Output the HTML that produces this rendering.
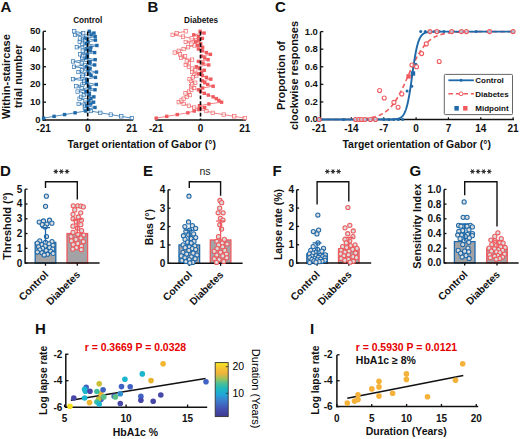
<!DOCTYPE html>
<html><head><meta charset="utf-8"><style>
html,body{margin:0;padding:0;background:#fff;}
svg{display:block;font-family:"Liberation Sans", sans-serif;}
</style></head><body>
<svg width="520" height="439" viewBox="0 0 520 439">
<rect width="520" height="439" fill="#fff"/>
<text x="0.40" y="11.70" font-size="15" text-anchor="start" font-weight="bold" fill="#111">A</text>
<text x="147.60" y="11.70" font-size="15" text-anchor="start" font-weight="bold" fill="#111">B</text>
<text x="275.10" y="11.70" font-size="15" text-anchor="start" font-weight="bold" fill="#111">C</text>
<text x="0.00" y="175.80" font-size="15" text-anchor="start" font-weight="bold" fill="#111">D</text>
<text x="143.00" y="175.80" font-size="15" text-anchor="start" font-weight="bold" fill="#111">E</text>
<text x="272.40" y="175.60" font-size="15" text-anchor="start" font-weight="bold" fill="#111">F</text>
<text x="409.50" y="175.80" font-size="15" text-anchor="start" font-weight="bold" fill="#111">G</text>
<text x="35.00" y="333.90" font-size="15" text-anchor="start" font-weight="bold" fill="#111">H</text>
<text x="310.00" y="333.90" font-size="15" text-anchor="start" font-weight="bold" fill="#111">I</text>
<line x1="42.50" y1="119.90" x2="133.10" y2="119.90" stroke="#111" stroke-width="1.5"/>
<line x1="43.20" y1="31.60" x2="43.20" y2="120.60" stroke="#111" stroke-width="1.5"/>
<line x1="43.20" y1="119.90" x2="46.00" y2="119.90" stroke="#111" stroke-width="1.3"/>
<text x="40.60" y="122.80" font-size="9.5" text-anchor="end" font-weight="bold" fill="#111">0</text>
<line x1="43.20" y1="102.18" x2="46.00" y2="102.18" stroke="#111" stroke-width="1.3"/>
<text x="40.60" y="105.08" font-size="9.5" text-anchor="end" font-weight="bold" fill="#111">10</text>
<line x1="43.20" y1="84.46" x2="46.00" y2="84.46" stroke="#111" stroke-width="1.3"/>
<text x="40.60" y="87.36" font-size="9.5" text-anchor="end" font-weight="bold" fill="#111">20</text>
<line x1="43.20" y1="66.74" x2="46.00" y2="66.74" stroke="#111" stroke-width="1.3"/>
<text x="40.60" y="69.64" font-size="9.5" text-anchor="end" font-weight="bold" fill="#111">30</text>
<line x1="43.20" y1="49.02" x2="46.00" y2="49.02" stroke="#111" stroke-width="1.3"/>
<text x="40.60" y="51.92" font-size="9.5" text-anchor="end" font-weight="bold" fill="#111">40</text>
<line x1="43.20" y1="31.30" x2="46.00" y2="31.30" stroke="#111" stroke-width="1.3"/>
<text x="40.60" y="34.20" font-size="9.5" text-anchor="end" font-weight="bold" fill="#111">50</text>
<text x="43.60" y="132.30" font-size="10" text-anchor="middle" font-weight="bold" fill="#111">-21</text>
<text x="87.70" y="132.30" font-size="10" text-anchor="middle" font-weight="bold" fill="#111">0</text>
<text x="131.80" y="132.30" font-size="10" text-anchor="middle" font-weight="bold" fill="#111">21</text>
<text x="87.70" y="22.70" font-size="8.2" text-anchor="middle" font-weight="bold" fill="#111">Control</text>
<polyline points="131.80,118.13 121.30,116.36 110.80,114.58 100.30,112.81 90.85,111.04 85.60,109.27 84.77,107.50 85.50,105.72 78.68,103.95 86.72,102.18 85.49,100.41 79.59,98.64 81.16,96.86 83.82,95.09 86.73,93.32 77.63,91.55 86.47,89.78 81.67,88.00 76.35,86.23 82.48,84.46 84.29,82.69 84.48,80.92 73.09,79.14 82.30,77.37 82.68,75.60 86.56,73.83 78.47,72.06 81.95,70.28 85.83,68.51 73.99,66.74 84.74,64.97 81.75,63.20 73.01,61.42 86.29,59.65 82.26,57.88 82.29,56.11 80.01,54.34 86.29,52.56 82.74,50.79 86.84,49.02 76.85,47.25 85.11,45.48 82.23,43.70 79.72,41.93 85.19,40.16 79.90,38.39 86.42,36.62 75.13,34.84 83.18,33.07 74.18,31.30" fill="none" stroke="#1f69a9" stroke-width="0.75"/>
<polyline points="43.60,118.13 54.10,116.36 64.60,114.58 75.10,112.81 85.60,111.04 88.55,109.27 94.99,107.50 86.78,105.72 90.75,103.95 93.60,102.18 88.77,100.41 90.92,98.64 93.89,96.86 89.05,95.09 89.39,93.32 86.24,91.55 95.01,89.78 89.86,88.00 88.49,86.23 96.32,84.46 86.88,82.69 87.32,80.92 86.63,79.14 95.49,77.37 91.06,75.60 89.24,73.83 96.51,72.06 88.11,70.28 90.09,68.51 86.58,66.74 94.68,64.97 89.70,63.20 89.98,61.42 95.17,59.65 86.50,57.88 87.48,56.11 87.17,54.34 94.64,52.56 90.44,50.79 87.11,49.02 90.86,47.25 96.90,45.48 86.32,43.70 88.09,41.93 95.44,40.16 86.15,38.39 95.19,36.62 90.97,34.84 94.00,33.07 89.28,31.30" fill="none" stroke="#1f69a9" stroke-width="0.75"/>
<rect x="130.10" y="116.43" width="3.4" height="3.4" fill="#fff" fill-opacity="0.55" stroke="#1f69a9" stroke-width="0.65"/>
<rect x="119.60" y="114.66" width="3.4" height="3.4" fill="#fff" fill-opacity="0.55" stroke="#1f69a9" stroke-width="0.65"/>
<rect x="109.10" y="112.88" width="3.4" height="3.4" fill="#fff" fill-opacity="0.55" stroke="#1f69a9" stroke-width="0.65"/>
<rect x="98.60" y="111.11" width="3.4" height="3.4" fill="#fff" fill-opacity="0.55" stroke="#1f69a9" stroke-width="0.65"/>
<rect x="89.15" y="109.34" width="3.4" height="3.4" fill="#fff" fill-opacity="0.55" stroke="#1f69a9" stroke-width="0.65"/>
<rect x="83.90" y="107.57" width="3.4" height="3.4" fill="#fff" fill-opacity="0.55" stroke="#1f69a9" stroke-width="0.65"/>
<rect x="83.07" y="105.80" width="3.4" height="3.4" fill="#fff" fill-opacity="0.55" stroke="#1f69a9" stroke-width="0.65"/>
<rect x="83.80" y="104.02" width="3.4" height="3.4" fill="#fff" fill-opacity="0.55" stroke="#1f69a9" stroke-width="0.65"/>
<rect x="76.98" y="102.25" width="3.4" height="3.4" fill="#fff" fill-opacity="0.55" stroke="#1f69a9" stroke-width="0.65"/>
<rect x="85.02" y="100.48" width="3.4" height="3.4" fill="#fff" fill-opacity="0.55" stroke="#1f69a9" stroke-width="0.65"/>
<rect x="83.79" y="98.71" width="3.4" height="3.4" fill="#fff" fill-opacity="0.55" stroke="#1f69a9" stroke-width="0.65"/>
<rect x="77.89" y="96.94" width="3.4" height="3.4" fill="#fff" fill-opacity="0.55" stroke="#1f69a9" stroke-width="0.65"/>
<rect x="79.46" y="95.16" width="3.4" height="3.4" fill="#fff" fill-opacity="0.55" stroke="#1f69a9" stroke-width="0.65"/>
<rect x="82.12" y="93.39" width="3.4" height="3.4" fill="#fff" fill-opacity="0.55" stroke="#1f69a9" stroke-width="0.65"/>
<rect x="85.03" y="91.62" width="3.4" height="3.4" fill="#fff" fill-opacity="0.55" stroke="#1f69a9" stroke-width="0.65"/>
<rect x="75.93" y="89.85" width="3.4" height="3.4" fill="#fff" fill-opacity="0.55" stroke="#1f69a9" stroke-width="0.65"/>
<rect x="84.77" y="88.08" width="3.4" height="3.4" fill="#fff" fill-opacity="0.55" stroke="#1f69a9" stroke-width="0.65"/>
<rect x="79.97" y="86.30" width="3.4" height="3.4" fill="#fff" fill-opacity="0.55" stroke="#1f69a9" stroke-width="0.65"/>
<rect x="74.65" y="84.53" width="3.4" height="3.4" fill="#fff" fill-opacity="0.55" stroke="#1f69a9" stroke-width="0.65"/>
<rect x="80.78" y="82.76" width="3.4" height="3.4" fill="#fff" fill-opacity="0.55" stroke="#1f69a9" stroke-width="0.65"/>
<rect x="82.59" y="80.99" width="3.4" height="3.4" fill="#fff" fill-opacity="0.55" stroke="#1f69a9" stroke-width="0.65"/>
<rect x="82.78" y="79.22" width="3.4" height="3.4" fill="#fff" fill-opacity="0.55" stroke="#1f69a9" stroke-width="0.65"/>
<rect x="71.39" y="77.44" width="3.4" height="3.4" fill="#fff" fill-opacity="0.55" stroke="#1f69a9" stroke-width="0.65"/>
<rect x="80.60" y="75.67" width="3.4" height="3.4" fill="#fff" fill-opacity="0.55" stroke="#1f69a9" stroke-width="0.65"/>
<rect x="80.98" y="73.90" width="3.4" height="3.4" fill="#fff" fill-opacity="0.55" stroke="#1f69a9" stroke-width="0.65"/>
<rect x="84.86" y="72.13" width="3.4" height="3.4" fill="#fff" fill-opacity="0.55" stroke="#1f69a9" stroke-width="0.65"/>
<rect x="76.77" y="70.36" width="3.4" height="3.4" fill="#fff" fill-opacity="0.55" stroke="#1f69a9" stroke-width="0.65"/>
<rect x="80.25" y="68.58" width="3.4" height="3.4" fill="#fff" fill-opacity="0.55" stroke="#1f69a9" stroke-width="0.65"/>
<rect x="84.13" y="66.81" width="3.4" height="3.4" fill="#fff" fill-opacity="0.55" stroke="#1f69a9" stroke-width="0.65"/>
<rect x="72.29" y="65.04" width="3.4" height="3.4" fill="#fff" fill-opacity="0.55" stroke="#1f69a9" stroke-width="0.65"/>
<rect x="83.04" y="63.27" width="3.4" height="3.4" fill="#fff" fill-opacity="0.55" stroke="#1f69a9" stroke-width="0.65"/>
<rect x="80.05" y="61.50" width="3.4" height="3.4" fill="#fff" fill-opacity="0.55" stroke="#1f69a9" stroke-width="0.65"/>
<rect x="71.31" y="59.72" width="3.4" height="3.4" fill="#fff" fill-opacity="0.55" stroke="#1f69a9" stroke-width="0.65"/>
<rect x="84.59" y="57.95" width="3.4" height="3.4" fill="#fff" fill-opacity="0.55" stroke="#1f69a9" stroke-width="0.65"/>
<rect x="80.56" y="56.18" width="3.4" height="3.4" fill="#fff" fill-opacity="0.55" stroke="#1f69a9" stroke-width="0.65"/>
<rect x="80.59" y="54.41" width="3.4" height="3.4" fill="#fff" fill-opacity="0.55" stroke="#1f69a9" stroke-width="0.65"/>
<rect x="78.31" y="52.64" width="3.4" height="3.4" fill="#fff" fill-opacity="0.55" stroke="#1f69a9" stroke-width="0.65"/>
<rect x="84.59" y="50.86" width="3.4" height="3.4" fill="#fff" fill-opacity="0.55" stroke="#1f69a9" stroke-width="0.65"/>
<rect x="81.04" y="49.09" width="3.4" height="3.4" fill="#fff" fill-opacity="0.55" stroke="#1f69a9" stroke-width="0.65"/>
<rect x="85.14" y="47.32" width="3.4" height="3.4" fill="#fff" fill-opacity="0.55" stroke="#1f69a9" stroke-width="0.65"/>
<rect x="75.15" y="45.55" width="3.4" height="3.4" fill="#fff" fill-opacity="0.55" stroke="#1f69a9" stroke-width="0.65"/>
<rect x="83.41" y="43.78" width="3.4" height="3.4" fill="#fff" fill-opacity="0.55" stroke="#1f69a9" stroke-width="0.65"/>
<rect x="80.53" y="42.00" width="3.4" height="3.4" fill="#fff" fill-opacity="0.55" stroke="#1f69a9" stroke-width="0.65"/>
<rect x="78.02" y="40.23" width="3.4" height="3.4" fill="#fff" fill-opacity="0.55" stroke="#1f69a9" stroke-width="0.65"/>
<rect x="83.49" y="38.46" width="3.4" height="3.4" fill="#fff" fill-opacity="0.55" stroke="#1f69a9" stroke-width="0.65"/>
<rect x="78.20" y="36.69" width="3.4" height="3.4" fill="#fff" fill-opacity="0.55" stroke="#1f69a9" stroke-width="0.65"/>
<rect x="84.72" y="34.92" width="3.4" height="3.4" fill="#fff" fill-opacity="0.55" stroke="#1f69a9" stroke-width="0.65"/>
<rect x="73.43" y="33.14" width="3.4" height="3.4" fill="#fff" fill-opacity="0.55" stroke="#1f69a9" stroke-width="0.65"/>
<rect x="81.48" y="31.37" width="3.4" height="3.4" fill="#fff" fill-opacity="0.55" stroke="#1f69a9" stroke-width="0.65"/>
<rect x="72.48" y="29.60" width="3.4" height="3.4" fill="#fff" fill-opacity="0.55" stroke="#1f69a9" stroke-width="0.65"/>
<rect x="41.90" y="116.43" width="3.4" height="3.4" fill="#1f69a9"/>
<rect x="52.40" y="114.66" width="3.4" height="3.4" fill="#1f69a9"/>
<rect x="62.90" y="112.88" width="3.4" height="3.4" fill="#1f69a9"/>
<rect x="73.40" y="111.11" width="3.4" height="3.4" fill="#1f69a9"/>
<rect x="83.90" y="109.34" width="3.4" height="3.4" fill="#1f69a9"/>
<rect x="86.85" y="107.57" width="3.4" height="3.4" fill="#1f69a9"/>
<rect x="93.29" y="105.80" width="3.4" height="3.4" fill="#1f69a9"/>
<rect x="85.08" y="104.02" width="3.4" height="3.4" fill="#1f69a9"/>
<rect x="89.05" y="102.25" width="3.4" height="3.4" fill="#1f69a9"/>
<rect x="91.90" y="100.48" width="3.4" height="3.4" fill="#1f69a9"/>
<rect x="87.07" y="98.71" width="3.4" height="3.4" fill="#1f69a9"/>
<rect x="89.22" y="96.94" width="3.4" height="3.4" fill="#1f69a9"/>
<rect x="92.19" y="95.16" width="3.4" height="3.4" fill="#1f69a9"/>
<rect x="87.35" y="93.39" width="3.4" height="3.4" fill="#1f69a9"/>
<rect x="87.69" y="91.62" width="3.4" height="3.4" fill="#1f69a9"/>
<rect x="84.54" y="89.85" width="3.4" height="3.4" fill="#1f69a9"/>
<rect x="93.31" y="88.08" width="3.4" height="3.4" fill="#1f69a9"/>
<rect x="88.16" y="86.30" width="3.4" height="3.4" fill="#1f69a9"/>
<rect x="86.79" y="84.53" width="3.4" height="3.4" fill="#1f69a9"/>
<rect x="94.62" y="82.76" width="3.4" height="3.4" fill="#1f69a9"/>
<rect x="85.18" y="80.99" width="3.4" height="3.4" fill="#1f69a9"/>
<rect x="85.62" y="79.22" width="3.4" height="3.4" fill="#1f69a9"/>
<rect x="84.93" y="77.44" width="3.4" height="3.4" fill="#1f69a9"/>
<rect x="93.79" y="75.67" width="3.4" height="3.4" fill="#1f69a9"/>
<rect x="89.36" y="73.90" width="3.4" height="3.4" fill="#1f69a9"/>
<rect x="87.54" y="72.13" width="3.4" height="3.4" fill="#1f69a9"/>
<rect x="94.81" y="70.36" width="3.4" height="3.4" fill="#1f69a9"/>
<rect x="86.41" y="68.58" width="3.4" height="3.4" fill="#1f69a9"/>
<rect x="88.39" y="66.81" width="3.4" height="3.4" fill="#1f69a9"/>
<rect x="84.88" y="65.04" width="3.4" height="3.4" fill="#1f69a9"/>
<rect x="92.98" y="63.27" width="3.4" height="3.4" fill="#1f69a9"/>
<rect x="88.00" y="61.50" width="3.4" height="3.4" fill="#1f69a9"/>
<rect x="88.28" y="59.72" width="3.4" height="3.4" fill="#1f69a9"/>
<rect x="93.47" y="57.95" width="3.4" height="3.4" fill="#1f69a9"/>
<rect x="84.80" y="56.18" width="3.4" height="3.4" fill="#1f69a9"/>
<rect x="85.78" y="54.41" width="3.4" height="3.4" fill="#1f69a9"/>
<rect x="85.47" y="52.64" width="3.4" height="3.4" fill="#1f69a9"/>
<rect x="92.94" y="50.86" width="3.4" height="3.4" fill="#1f69a9"/>
<rect x="88.74" y="49.09" width="3.4" height="3.4" fill="#1f69a9"/>
<rect x="85.41" y="47.32" width="3.4" height="3.4" fill="#1f69a9"/>
<rect x="89.16" y="45.55" width="3.4" height="3.4" fill="#1f69a9"/>
<rect x="95.20" y="43.78" width="3.4" height="3.4" fill="#1f69a9"/>
<rect x="84.62" y="42.00" width="3.4" height="3.4" fill="#1f69a9"/>
<rect x="86.39" y="40.23" width="3.4" height="3.4" fill="#1f69a9"/>
<rect x="93.74" y="38.46" width="3.4" height="3.4" fill="#1f69a9"/>
<rect x="84.45" y="36.69" width="3.4" height="3.4" fill="#1f69a9"/>
<rect x="93.49" y="34.92" width="3.4" height="3.4" fill="#1f69a9"/>
<rect x="89.27" y="33.14" width="3.4" height="3.4" fill="#1f69a9"/>
<rect x="92.30" y="31.37" width="3.4" height="3.4" fill="#1f69a9"/>
<rect x="87.58" y="29.60" width="3.4" height="3.4" fill="#1f69a9"/>
<line x1="87.70" y1="31.60" x2="87.70" y2="119.90" stroke="#000" stroke-width="1.6" stroke-dasharray="3.8,2.0"/>
<line x1="155.30" y1="119.90" x2="245.90" y2="119.90" stroke="#111" stroke-width="1.5"/>
<text x="156.19" y="132.30" font-size="10" text-anchor="middle" font-weight="bold" fill="#111">-21</text>
<text x="200.50" y="132.30" font-size="10" text-anchor="middle" font-weight="bold" fill="#111">0</text>
<text x="244.81" y="132.30" font-size="10" text-anchor="middle" font-weight="bold" fill="#111">21</text>
<text x="201.10" y="22.70" font-size="8.2" text-anchor="middle" font-weight="bold" fill="#111">Diabetes</text>
<polyline points="244.81,118.13 234.26,116.36 223.71,114.58 212.74,112.81 206.41,111.04 199.44,109.27 194.17,107.50 188.90,105.72 183.62,103.95 178.77,102.18 181.51,100.41 183.62,98.64 186.78,96.86 189.95,95.09 185.52,93.32 188.90,91.55 191.43,89.78 194.17,88.00 191.00,86.23 192.27,84.46 195.22,82.69 191.00,80.92 189.53,79.14 192.90,77.37 196.28,75.60 194.17,73.83 192.27,72.06 195.22,70.28 192.06,68.51 188.90,66.74 185.73,64.97 188.90,63.20 186.78,61.42 192.06,59.65 181.09,57.88 185.10,56.11 180.03,54.34 174.76,52.56 178.77,50.79 183.62,49.02 188.05,47.25 194.38,45.48 191.43,43.70 185.73,41.93 196.28,40.16 191.64,38.39 182.99,36.62 172.65,34.84 176.66,33.07 185.73,31.30" fill="none" stroke="#ee5a5e" stroke-width="0.75"/>
<polyline points="156.19,118.13 166.74,116.36 177.29,114.58 187.84,112.81 194.17,111.04 199.44,109.27 204.72,107.50 199.44,105.72 208.94,103.95 221.60,102.18 218.86,100.41 216.32,98.64 213.16,96.86 208.31,95.09 204.30,93.32 200.50,91.55 198.39,89.78 202.61,88.00 213.16,86.23 207.67,84.46 204.72,82.69 202.40,80.92 210.84,79.14 206.41,77.37 202.40,75.60 198.39,73.83 201.56,72.06 204.30,70.28 199.44,68.51 196.28,66.74 208.73,64.97 203.03,63.20 198.39,61.42 208.10,59.65 204.72,57.88 201.56,56.11 210.42,54.34 206.41,52.56 202.40,50.79 198.39,49.02 202.61,47.25 197.34,45.48 200.71,43.70 195.65,41.93 198.39,40.16 202.40,38.39 198.39,36.62 193.75,34.84 204.09,33.07 200.08,31.30" fill="none" stroke="#ee5a5e" stroke-width="0.75"/>
<rect x="243.11" y="116.43" width="3.4" height="3.4" fill="#fff" fill-opacity="0.55" stroke="#ee5a5e" stroke-width="0.65"/>
<rect x="232.56" y="114.66" width="3.4" height="3.4" fill="#fff" fill-opacity="0.55" stroke="#ee5a5e" stroke-width="0.65"/>
<rect x="222.01" y="112.88" width="3.4" height="3.4" fill="#fff" fill-opacity="0.55" stroke="#ee5a5e" stroke-width="0.65"/>
<rect x="211.04" y="111.11" width="3.4" height="3.4" fill="#fff" fill-opacity="0.55" stroke="#ee5a5e" stroke-width="0.65"/>
<rect x="204.71" y="109.34" width="3.4" height="3.4" fill="#fff" fill-opacity="0.55" stroke="#ee5a5e" stroke-width="0.65"/>
<rect x="197.75" y="107.57" width="3.4" height="3.4" fill="#fff" fill-opacity="0.55" stroke="#ee5a5e" stroke-width="0.65"/>
<rect x="192.47" y="105.80" width="3.4" height="3.4" fill="#fff" fill-opacity="0.55" stroke="#ee5a5e" stroke-width="0.65"/>
<rect x="187.20" y="104.02" width="3.4" height="3.4" fill="#fff" fill-opacity="0.55" stroke="#ee5a5e" stroke-width="0.65"/>
<rect x="181.92" y="102.25" width="3.4" height="3.4" fill="#fff" fill-opacity="0.55" stroke="#ee5a5e" stroke-width="0.65"/>
<rect x="177.07" y="100.48" width="3.4" height="3.4" fill="#fff" fill-opacity="0.55" stroke="#ee5a5e" stroke-width="0.65"/>
<rect x="179.81" y="98.71" width="3.4" height="3.4" fill="#fff" fill-opacity="0.55" stroke="#ee5a5e" stroke-width="0.65"/>
<rect x="181.92" y="96.94" width="3.4" height="3.4" fill="#fff" fill-opacity="0.55" stroke="#ee5a5e" stroke-width="0.65"/>
<rect x="185.09" y="95.16" width="3.4" height="3.4" fill="#fff" fill-opacity="0.55" stroke="#ee5a5e" stroke-width="0.65"/>
<rect x="188.25" y="93.39" width="3.4" height="3.4" fill="#fff" fill-opacity="0.55" stroke="#ee5a5e" stroke-width="0.65"/>
<rect x="183.82" y="91.62" width="3.4" height="3.4" fill="#fff" fill-opacity="0.55" stroke="#ee5a5e" stroke-width="0.65"/>
<rect x="187.20" y="89.85" width="3.4" height="3.4" fill="#fff" fill-opacity="0.55" stroke="#ee5a5e" stroke-width="0.65"/>
<rect x="189.73" y="88.08" width="3.4" height="3.4" fill="#fff" fill-opacity="0.55" stroke="#ee5a5e" stroke-width="0.65"/>
<rect x="192.47" y="86.30" width="3.4" height="3.4" fill="#fff" fill-opacity="0.55" stroke="#ee5a5e" stroke-width="0.65"/>
<rect x="189.31" y="84.53" width="3.4" height="3.4" fill="#fff" fill-opacity="0.55" stroke="#ee5a5e" stroke-width="0.65"/>
<rect x="190.57" y="82.76" width="3.4" height="3.4" fill="#fff" fill-opacity="0.55" stroke="#ee5a5e" stroke-width="0.65"/>
<rect x="193.53" y="80.99" width="3.4" height="3.4" fill="#fff" fill-opacity="0.55" stroke="#ee5a5e" stroke-width="0.65"/>
<rect x="189.31" y="79.22" width="3.4" height="3.4" fill="#fff" fill-opacity="0.55" stroke="#ee5a5e" stroke-width="0.65"/>
<rect x="187.83" y="77.44" width="3.4" height="3.4" fill="#fff" fill-opacity="0.55" stroke="#ee5a5e" stroke-width="0.65"/>
<rect x="191.20" y="75.67" width="3.4" height="3.4" fill="#fff" fill-opacity="0.55" stroke="#ee5a5e" stroke-width="0.65"/>
<rect x="194.58" y="73.90" width="3.4" height="3.4" fill="#fff" fill-opacity="0.55" stroke="#ee5a5e" stroke-width="0.65"/>
<rect x="192.47" y="72.13" width="3.4" height="3.4" fill="#fff" fill-opacity="0.55" stroke="#ee5a5e" stroke-width="0.65"/>
<rect x="190.57" y="70.36" width="3.4" height="3.4" fill="#fff" fill-opacity="0.55" stroke="#ee5a5e" stroke-width="0.65"/>
<rect x="193.53" y="68.58" width="3.4" height="3.4" fill="#fff" fill-opacity="0.55" stroke="#ee5a5e" stroke-width="0.65"/>
<rect x="190.36" y="66.81" width="3.4" height="3.4" fill="#fff" fill-opacity="0.55" stroke="#ee5a5e" stroke-width="0.65"/>
<rect x="187.20" y="65.04" width="3.4" height="3.4" fill="#fff" fill-opacity="0.55" stroke="#ee5a5e" stroke-width="0.65"/>
<rect x="184.03" y="63.27" width="3.4" height="3.4" fill="#fff" fill-opacity="0.55" stroke="#ee5a5e" stroke-width="0.65"/>
<rect x="187.20" y="61.50" width="3.4" height="3.4" fill="#fff" fill-opacity="0.55" stroke="#ee5a5e" stroke-width="0.65"/>
<rect x="185.09" y="59.72" width="3.4" height="3.4" fill="#fff" fill-opacity="0.55" stroke="#ee5a5e" stroke-width="0.65"/>
<rect x="190.36" y="57.95" width="3.4" height="3.4" fill="#fff" fill-opacity="0.55" stroke="#ee5a5e" stroke-width="0.65"/>
<rect x="179.39" y="56.18" width="3.4" height="3.4" fill="#fff" fill-opacity="0.55" stroke="#ee5a5e" stroke-width="0.65"/>
<rect x="183.40" y="54.41" width="3.4" height="3.4" fill="#fff" fill-opacity="0.55" stroke="#ee5a5e" stroke-width="0.65"/>
<rect x="178.33" y="52.64" width="3.4" height="3.4" fill="#fff" fill-opacity="0.55" stroke="#ee5a5e" stroke-width="0.65"/>
<rect x="173.06" y="50.86" width="3.4" height="3.4" fill="#fff" fill-opacity="0.55" stroke="#ee5a5e" stroke-width="0.65"/>
<rect x="177.07" y="49.09" width="3.4" height="3.4" fill="#fff" fill-opacity="0.55" stroke="#ee5a5e" stroke-width="0.65"/>
<rect x="181.92" y="47.32" width="3.4" height="3.4" fill="#fff" fill-opacity="0.55" stroke="#ee5a5e" stroke-width="0.65"/>
<rect x="186.35" y="45.55" width="3.4" height="3.4" fill="#fff" fill-opacity="0.55" stroke="#ee5a5e" stroke-width="0.65"/>
<rect x="192.68" y="43.78" width="3.4" height="3.4" fill="#fff" fill-opacity="0.55" stroke="#ee5a5e" stroke-width="0.65"/>
<rect x="189.73" y="42.00" width="3.4" height="3.4" fill="#fff" fill-opacity="0.55" stroke="#ee5a5e" stroke-width="0.65"/>
<rect x="184.03" y="40.23" width="3.4" height="3.4" fill="#fff" fill-opacity="0.55" stroke="#ee5a5e" stroke-width="0.65"/>
<rect x="194.58" y="38.46" width="3.4" height="3.4" fill="#fff" fill-opacity="0.55" stroke="#ee5a5e" stroke-width="0.65"/>
<rect x="189.94" y="36.69" width="3.4" height="3.4" fill="#fff" fill-opacity="0.55" stroke="#ee5a5e" stroke-width="0.65"/>
<rect x="181.29" y="34.92" width="3.4" height="3.4" fill="#fff" fill-opacity="0.55" stroke="#ee5a5e" stroke-width="0.65"/>
<rect x="170.95" y="33.14" width="3.4" height="3.4" fill="#fff" fill-opacity="0.55" stroke="#ee5a5e" stroke-width="0.65"/>
<rect x="174.96" y="31.37" width="3.4" height="3.4" fill="#fff" fill-opacity="0.55" stroke="#ee5a5e" stroke-width="0.65"/>
<rect x="184.03" y="29.60" width="3.4" height="3.4" fill="#fff" fill-opacity="0.55" stroke="#ee5a5e" stroke-width="0.65"/>
<rect x="154.49" y="116.43" width="3.4" height="3.4" fill="#ee5a5e"/>
<rect x="165.04" y="114.66" width="3.4" height="3.4" fill="#ee5a5e"/>
<rect x="175.59" y="112.88" width="3.4" height="3.4" fill="#ee5a5e"/>
<rect x="186.14" y="111.11" width="3.4" height="3.4" fill="#ee5a5e"/>
<rect x="192.47" y="109.34" width="3.4" height="3.4" fill="#ee5a5e"/>
<rect x="197.75" y="107.57" width="3.4" height="3.4" fill="#ee5a5e"/>
<rect x="203.02" y="105.80" width="3.4" height="3.4" fill="#ee5a5e"/>
<rect x="197.75" y="104.02" width="3.4" height="3.4" fill="#ee5a5e"/>
<rect x="207.24" y="102.25" width="3.4" height="3.4" fill="#ee5a5e"/>
<rect x="219.90" y="100.48" width="3.4" height="3.4" fill="#ee5a5e"/>
<rect x="217.16" y="98.71" width="3.4" height="3.4" fill="#ee5a5e"/>
<rect x="214.62" y="96.94" width="3.4" height="3.4" fill="#ee5a5e"/>
<rect x="211.46" y="95.16" width="3.4" height="3.4" fill="#ee5a5e"/>
<rect x="206.61" y="93.39" width="3.4" height="3.4" fill="#ee5a5e"/>
<rect x="202.60" y="91.62" width="3.4" height="3.4" fill="#ee5a5e"/>
<rect x="198.80" y="89.85" width="3.4" height="3.4" fill="#ee5a5e"/>
<rect x="196.69" y="88.08" width="3.4" height="3.4" fill="#ee5a5e"/>
<rect x="200.91" y="86.30" width="3.4" height="3.4" fill="#ee5a5e"/>
<rect x="211.46" y="84.53" width="3.4" height="3.4" fill="#ee5a5e"/>
<rect x="205.97" y="82.76" width="3.4" height="3.4" fill="#ee5a5e"/>
<rect x="203.02" y="80.99" width="3.4" height="3.4" fill="#ee5a5e"/>
<rect x="200.70" y="79.22" width="3.4" height="3.4" fill="#ee5a5e"/>
<rect x="209.14" y="77.44" width="3.4" height="3.4" fill="#ee5a5e"/>
<rect x="204.71" y="75.67" width="3.4" height="3.4" fill="#ee5a5e"/>
<rect x="200.70" y="73.90" width="3.4" height="3.4" fill="#ee5a5e"/>
<rect x="196.69" y="72.13" width="3.4" height="3.4" fill="#ee5a5e"/>
<rect x="199.86" y="70.36" width="3.4" height="3.4" fill="#ee5a5e"/>
<rect x="202.60" y="68.58" width="3.4" height="3.4" fill="#ee5a5e"/>
<rect x="197.75" y="66.81" width="3.4" height="3.4" fill="#ee5a5e"/>
<rect x="194.58" y="65.04" width="3.4" height="3.4" fill="#ee5a5e"/>
<rect x="207.03" y="63.27" width="3.4" height="3.4" fill="#ee5a5e"/>
<rect x="201.33" y="61.50" width="3.4" height="3.4" fill="#ee5a5e"/>
<rect x="196.69" y="59.72" width="3.4" height="3.4" fill="#ee5a5e"/>
<rect x="206.40" y="57.95" width="3.4" height="3.4" fill="#ee5a5e"/>
<rect x="203.02" y="56.18" width="3.4" height="3.4" fill="#ee5a5e"/>
<rect x="199.86" y="54.41" width="3.4" height="3.4" fill="#ee5a5e"/>
<rect x="208.72" y="52.64" width="3.4" height="3.4" fill="#ee5a5e"/>
<rect x="204.71" y="50.86" width="3.4" height="3.4" fill="#ee5a5e"/>
<rect x="200.70" y="49.09" width="3.4" height="3.4" fill="#ee5a5e"/>
<rect x="196.69" y="47.32" width="3.4" height="3.4" fill="#ee5a5e"/>
<rect x="200.91" y="45.55" width="3.4" height="3.4" fill="#ee5a5e"/>
<rect x="195.64" y="43.78" width="3.4" height="3.4" fill="#ee5a5e"/>
<rect x="199.01" y="42.00" width="3.4" height="3.4" fill="#ee5a5e"/>
<rect x="193.95" y="40.23" width="3.4" height="3.4" fill="#ee5a5e"/>
<rect x="196.69" y="38.46" width="3.4" height="3.4" fill="#ee5a5e"/>
<rect x="200.70" y="36.69" width="3.4" height="3.4" fill="#ee5a5e"/>
<rect x="196.69" y="34.92" width="3.4" height="3.4" fill="#ee5a5e"/>
<rect x="192.05" y="33.14" width="3.4" height="3.4" fill="#ee5a5e"/>
<rect x="202.39" y="31.37" width="3.4" height="3.4" fill="#ee5a5e"/>
<rect x="198.38" y="29.60" width="3.4" height="3.4" fill="#ee5a5e"/>
<line x1="200.50" y1="31.60" x2="200.50" y2="119.90" stroke="#000" stroke-width="1.6" stroke-dasharray="3.8,2.0"/>
<text x="9.80" y="76.60" font-size="11" text-anchor="middle" font-weight="bold" fill="#111" transform="rotate(-90 9.8 76.6)">Within-staircase</text>
<text x="22.30" y="76.30" font-size="11" text-anchor="middle" font-weight="bold" fill="#111" transform="rotate(-90 22.3 76.3)">trial number</text>
<text x="141.70" y="148.20" font-size="10.45" text-anchor="middle" font-weight="bold" fill="#111">Target orientation of Gabor (°)</text>
<line x1="320.50" y1="31.60" x2="320.50" y2="120.25" stroke="#111" stroke-width="1.5"/>
<line x1="320.50" y1="119.55" x2="514.00" y2="119.55" stroke="#111" stroke-width="1.5"/>
<line x1="320.50" y1="119.55" x2="323.30" y2="119.55" stroke="#111" stroke-width="1.3"/>
<text x="317.90" y="122.45" font-size="9.5" text-anchor="end" font-weight="bold" fill="#111">0.0</text>
<line x1="320.50" y1="101.96" x2="323.30" y2="101.96" stroke="#111" stroke-width="1.3"/>
<text x="317.90" y="104.86" font-size="9.5" text-anchor="end" font-weight="bold" fill="#111">0.2</text>
<line x1="320.50" y1="84.37" x2="323.30" y2="84.37" stroke="#111" stroke-width="1.3"/>
<text x="317.90" y="87.27" font-size="9.5" text-anchor="end" font-weight="bold" fill="#111">0.4</text>
<line x1="320.50" y1="66.78" x2="323.30" y2="66.78" stroke="#111" stroke-width="1.3"/>
<text x="317.90" y="69.68" font-size="9.5" text-anchor="end" font-weight="bold" fill="#111">0.6</text>
<line x1="320.50" y1="49.19" x2="323.30" y2="49.19" stroke="#111" stroke-width="1.3"/>
<text x="317.90" y="52.09" font-size="9.5" text-anchor="end" font-weight="bold" fill="#111">0.8</text>
<line x1="320.50" y1="31.60" x2="323.30" y2="31.60" stroke="#111" stroke-width="1.3"/>
<text x="317.90" y="34.50" font-size="9.5" text-anchor="end" font-weight="bold" fill="#111">1.0</text>
<line x1="319.08" y1="119.55" x2="319.08" y2="117.25" stroke="#111" stroke-width="1.2"/>
<text x="319.08" y="132.30" font-size="10" text-anchor="middle" font-weight="bold" fill="#111">-21</text>
<line x1="351.42" y1="119.55" x2="351.42" y2="117.25" stroke="#111" stroke-width="1.2"/>
<text x="351.42" y="132.30" font-size="10" text-anchor="middle" font-weight="bold" fill="#111">-14</text>
<line x1="383.76" y1="119.55" x2="383.76" y2="117.25" stroke="#111" stroke-width="1.2"/>
<text x="383.76" y="132.30" font-size="10" text-anchor="middle" font-weight="bold" fill="#111">-7</text>
<line x1="416.10" y1="119.55" x2="416.10" y2="117.25" stroke="#111" stroke-width="1.2"/>
<text x="416.10" y="132.30" font-size="10" text-anchor="middle" font-weight="bold" fill="#111">0</text>
<line x1="448.44" y1="119.55" x2="448.44" y2="117.25" stroke="#111" stroke-width="1.2"/>
<text x="448.44" y="132.30" font-size="10" text-anchor="middle" font-weight="bold" fill="#111">7</text>
<line x1="480.78" y1="119.55" x2="480.78" y2="117.25" stroke="#111" stroke-width="1.2"/>
<text x="480.78" y="132.30" font-size="10" text-anchor="middle" font-weight="bold" fill="#111">14</text>
<line x1="513.12" y1="119.55" x2="513.12" y2="117.25" stroke="#111" stroke-width="1.2"/>
<text x="513.12" y="132.30" font-size="10" text-anchor="middle" font-weight="bold" fill="#111">21</text>
<text x="285.40" y="75.50" font-size="10.9" text-anchor="middle" font-weight="bold" fill="#111" transform="rotate(-90 285.4 75.5)">Proportion of</text>
<text x="298.10" y="75.50" font-size="10.9" text-anchor="middle" font-weight="bold" fill="#111" transform="rotate(-90 298.1 75.5)">clockwise responses</text>
<text x="416.70" y="148.20" font-size="10.45" text-anchor="middle" font-weight="bold" fill="#111">Target orientation of Gabor (°)</text>
<polyline points="319.08,119.54 319.54,119.54 320.00,119.54 320.47,119.54 320.93,119.54 321.39,119.54 321.85,119.54 322.31,119.54 322.78,119.54 323.24,119.54 323.70,119.54 324.16,119.53 324.62,119.53 325.09,119.53 325.55,119.53 326.01,119.53 326.47,119.53 326.93,119.53 327.40,119.53 327.86,119.53 328.32,119.53 328.78,119.53 329.24,119.52 329.71,119.52 330.17,119.52 330.63,119.52 331.09,119.52 331.55,119.52 332.02,119.52 332.48,119.51 332.94,119.51 333.40,119.51 333.86,119.51 334.33,119.51 334.79,119.50 335.25,119.50 335.71,119.50 336.17,119.50 336.64,119.50 337.10,119.49 337.56,119.49 338.02,119.49 338.48,119.48 338.95,119.48 339.41,119.48 339.87,119.47 340.33,119.47 340.79,119.47 341.26,119.46 341.72,119.46 342.18,119.45 342.64,119.45 343.10,119.44 343.57,119.44 344.03,119.43 344.49,119.43 344.95,119.42 345.41,119.41 345.88,119.41 346.34,119.40 346.80,119.39 347.26,119.39 347.72,119.38 348.19,119.37 348.65,119.36 349.11,119.35 349.57,119.34 350.03,119.33 350.50,119.32 350.96,119.31 351.42,119.30 351.88,119.29 352.34,119.27 352.81,119.26 353.27,119.25 353.73,119.23 354.19,119.22 354.65,119.20 355.12,119.18 355.58,119.17 356.04,119.15 356.50,119.13 356.96,119.11 357.43,119.09 357.89,119.06 358.35,119.04 358.81,119.01 359.27,118.99 359.74,118.96 360.20,118.93 360.66,118.90 361.12,118.87 361.58,118.84 362.05,118.80 362.51,118.77 362.97,118.73 363.43,118.69 363.89,118.65 364.36,118.61 364.82,118.56 365.28,118.51 365.74,118.46 366.20,118.41 366.67,118.36 367.13,118.30 367.59,118.24 368.05,118.18 368.51,118.11 368.98,118.04 369.44,117.97 369.90,117.89 370.36,117.81 370.82,117.73 371.29,117.64 371.75,117.55 372.21,117.46 372.67,117.36 373.13,117.25 373.60,117.14 374.06,117.03 374.52,116.91 374.98,116.79 375.44,116.66 375.91,116.52 376.37,116.38 376.83,116.23 377.29,116.07 377.75,115.91 378.22,115.74 378.68,115.56 379.14,115.38 379.60,115.19 380.06,114.98 380.53,114.77 380.99,114.55 381.45,114.32 381.91,114.09 382.37,113.84 382.84,113.58 383.30,113.31 383.76,113.02 384.22,112.73 384.68,112.42 385.15,112.11 385.61,111.78 386.07,111.43 386.53,111.07 386.99,110.70 387.46,110.32 387.92,109.91 388.38,109.50 388.84,109.07 389.30,108.62 389.77,108.15 390.23,107.67 390.69,107.18 391.15,106.66 391.61,106.13 392.08,105.58 392.54,105.01 393.00,104.42 393.46,103.82 393.92,103.19 394.39,102.55 394.85,101.88 395.31,101.20 395.77,100.50 396.23,99.78 396.70,99.04 397.16,98.28 397.62,97.51 398.08,96.71 398.54,95.90 399.01,95.06 399.47,94.21 399.93,93.35 400.39,92.46 400.85,91.56 401.32,90.65 401.78,89.71 402.24,88.77 402.70,87.81 403.16,86.84 403.63,85.85 404.09,84.86 404.55,83.85 405.01,82.84 405.47,81.81 405.94,80.79 406.40,79.75 406.86,78.71 407.32,77.67 407.78,76.62 408.25,75.58 408.71,74.53 409.17,73.48 409.63,72.44 410.09,71.40 410.56,70.36 411.02,69.34 411.48,68.31 411.94,67.30 412.40,66.29 412.87,65.30 413.33,64.31 413.79,63.34 414.25,62.38 414.71,61.44 415.18,60.50 415.64,59.59 416.10,58.69 416.56,57.80 417.02,56.94 417.49,56.09 417.95,55.25 418.41,54.44 418.87,53.64 419.33,52.87 419.80,52.11 420.26,51.37 420.72,50.65 421.18,49.95 421.64,49.27 422.11,48.60 422.57,47.96 423.03,47.33 423.49,46.73 423.95,46.14 424.42,45.57 424.88,45.02 425.34,44.49 425.80,43.97 426.26,43.48 426.73,43.00 427.19,42.53 427.65,42.08 428.11,41.65 428.57,41.24 429.04,40.83 429.50,40.45 429.96,40.08 430.42,39.72 430.88,39.37 431.35,39.04 431.81,38.73 432.27,38.42 432.73,38.13 433.19,37.84 433.66,37.57 434.12,37.31 434.58,37.06 435.04,36.83 435.50,36.60 435.97,36.38 436.43,36.17 436.89,35.96 437.35,35.77 437.81,35.59 438.28,35.41 438.74,35.24 439.20,35.08 439.66,34.92 440.12,34.77 440.59,34.63 441.05,34.49 441.51,34.36 441.97,34.24 442.43,34.12 442.90,34.01 443.36,33.90 443.82,33.79 444.28,33.69 444.74,33.60 445.21,33.51 445.67,33.42 446.13,33.34 446.59,33.26 447.05,33.18 447.52,33.11 447.98,33.04 448.44,32.97 448.90,32.91 449.36,32.85 449.83,32.79 450.29,32.74 450.75,32.69 451.21,32.64 451.67,32.59 452.14,32.54 452.60,32.50 453.06,32.46 453.52,32.42 453.98,32.38 454.45,32.35 454.91,32.31 455.37,32.28 455.83,32.25 456.29,32.22 456.76,32.19 457.22,32.16 457.68,32.14 458.14,32.11 458.60,32.09 459.07,32.06 459.53,32.04 459.99,32.02 460.45,32.00 460.91,31.98 461.38,31.97 461.84,31.95 462.30,31.93 462.76,31.92 463.22,31.90 463.69,31.89 464.15,31.88 464.61,31.86 465.07,31.85 465.53,31.84 466.00,31.83 466.46,31.82 466.92,31.81 467.38,31.80 467.84,31.79 468.31,31.78 468.77,31.77 469.23,31.76 469.69,31.76 470.15,31.75 470.62,31.74 471.08,31.74 471.54,31.73 472.00,31.72 472.46,31.72 472.93,31.71 473.39,31.71 473.85,31.70 474.31,31.70 474.77,31.69 475.24,31.69 475.70,31.68 476.16,31.68 476.62,31.68 477.08,31.67 477.55,31.67 478.01,31.67 478.47,31.66 478.93,31.66 479.39,31.66 479.86,31.65 480.32,31.65 480.78,31.65 481.24,31.65 481.70,31.65 482.17,31.64 482.63,31.64 483.09,31.64 483.55,31.64 484.01,31.64 484.48,31.63 484.94,31.63 485.40,31.63 485.86,31.63 486.32,31.63 486.79,31.63 487.25,31.63 487.71,31.62 488.17,31.62 488.63,31.62 489.10,31.62 489.56,31.62 490.02,31.62 490.48,31.62 490.94,31.62 491.41,31.62 491.87,31.62 492.33,31.62 492.79,31.61 493.25,31.61 493.72,31.61 494.18,31.61 494.64,31.61 495.10,31.61 495.56,31.61 496.03,31.61 496.49,31.61 496.95,31.61 497.41,31.61 497.87,31.61 498.34,31.61 498.80,31.61 499.26,31.61 499.72,31.61 500.18,31.61 500.65,31.61 501.11,31.61 501.57,31.61 502.03,31.61 502.49,31.61 502.96,31.61 503.42,31.60 503.88,31.60 504.34,31.60 504.80,31.60 505.27,31.60 505.73,31.60 506.19,31.60 506.65,31.60 507.11,31.60 507.58,31.60 508.04,31.60 508.50,31.60 508.96,31.60 509.42,31.60 509.89,31.60 510.35,31.60 510.81,31.60 511.27,31.60 511.73,31.60 512.20,31.60 512.66,31.60 513.12,31.60" fill="none" stroke="#ee5a5e" stroke-width="1.6" stroke-dasharray="4.5,3"/>
<polyline points="319.08,119.55 319.31,119.55 319.54,119.55 319.77,119.55 320.00,119.55 320.24,119.55 320.47,119.55 320.70,119.55 320.93,119.55 321.16,119.55 321.39,119.55 321.62,119.55 321.85,119.55 322.08,119.55 322.31,119.55 322.55,119.55 322.78,119.55 323.01,119.55 323.24,119.55 323.47,119.55 323.70,119.55 323.93,119.55 324.16,119.55 324.39,119.55 324.62,119.55 324.86,119.55 325.09,119.55 325.32,119.55 325.55,119.55 325.78,119.55 326.01,119.55 326.24,119.55 326.47,119.55 326.70,119.55 326.93,119.55 327.17,119.55 327.40,119.55 327.63,119.55 327.86,119.55 328.09,119.55 328.32,119.55 328.55,119.55 328.78,119.55 329.01,119.55 329.24,119.55 329.48,119.55 329.71,119.55 329.94,119.55 330.17,119.55 330.40,119.55 330.63,119.55 330.86,119.55 331.09,119.55 331.32,119.55 331.55,119.55 331.79,119.55 332.02,119.55 332.25,119.55 332.48,119.55 332.71,119.55 332.94,119.55 333.17,119.55 333.40,119.55 333.63,119.55 333.86,119.55 334.10,119.55 334.33,119.55 334.56,119.55 334.79,119.55 335.02,119.55 335.25,119.55 335.48,119.55 335.71,119.55 335.94,119.55 336.17,119.55 336.41,119.55 336.64,119.55 336.87,119.55 337.10,119.55 337.33,119.55 337.56,119.55 337.79,119.55 338.02,119.55 338.25,119.55 338.48,119.55 338.72,119.55 338.95,119.55 339.18,119.55 339.41,119.55 339.64,119.55 339.87,119.55 340.10,119.55 340.33,119.55 340.56,119.55 340.79,119.55 341.03,119.55 341.26,119.55 341.49,119.55 341.72,119.55 341.95,119.55 342.18,119.55 342.41,119.55 342.64,119.55 342.87,119.55 343.10,119.55 343.34,119.55 343.57,119.55 343.80,119.55 344.03,119.55 344.26,119.55 344.49,119.55 344.72,119.55 344.95,119.55 345.18,119.55 345.41,119.55 345.65,119.55 345.88,119.55 346.11,119.55 346.34,119.55 346.57,119.55 346.80,119.55 347.03,119.55 347.26,119.55 347.49,119.55 347.72,119.55 347.96,119.55 348.19,119.55 348.42,119.55 348.65,119.55 348.88,119.55 349.11,119.55 349.34,119.55 349.57,119.55 349.80,119.55 350.03,119.55 350.26,119.55 350.50,119.55 350.73,119.55 350.96,119.55 351.19,119.55 351.42,119.55 351.65,119.55 351.88,119.55 352.11,119.55 352.34,119.55 352.58,119.55 352.81,119.55 353.04,119.55 353.27,119.55 353.50,119.55 353.73,119.55 353.96,119.55 354.19,119.55 354.42,119.55 354.65,119.55 354.88,119.55 355.12,119.55 355.35,119.55 355.58,119.55 355.81,119.55 356.04,119.55 356.27,119.55 356.50,119.55 356.73,119.55 356.96,119.55 357.20,119.55 357.43,119.55 357.66,119.55 357.89,119.55 358.12,119.55 358.35,119.55 358.58,119.55 358.81,119.55 359.04,119.55 359.27,119.55 359.50,119.55 359.74,119.55 359.97,119.55 360.20,119.55 360.43,119.55 360.66,119.55 360.89,119.55 361.12,119.55 361.35,119.55 361.58,119.55 361.81,119.55 362.05,119.55 362.28,119.55 362.51,119.55 362.74,119.55 362.97,119.55 363.20,119.55 363.43,119.55 363.66,119.55 363.89,119.55 364.12,119.55 364.36,119.55 364.59,119.55 364.82,119.55 365.05,119.55 365.28,119.55 365.51,119.55 365.74,119.55 365.97,119.55 366.20,119.55 366.44,119.55 366.67,119.55 366.90,119.55 367.13,119.55 367.36,119.55 367.59,119.55 367.82,119.55 368.05,119.55 368.28,119.55 368.51,119.55 368.75,119.55 368.98,119.55 369.21,119.55 369.44,119.55 369.67,119.55 369.90,119.55 370.13,119.55 370.36,119.55 370.59,119.55 370.82,119.55 371.06,119.55 371.29,119.55 371.52,119.55 371.75,119.55 371.98,119.55 372.21,119.55 372.44,119.55 372.67,119.55 372.90,119.55 373.13,119.55 373.37,119.55 373.60,119.55 373.83,119.55 374.06,119.55 374.29,119.55 374.52,119.55 374.75,119.55 374.98,119.55 375.21,119.55 375.44,119.55 375.68,119.55 375.91,119.55 376.14,119.55 376.37,119.55 376.60,119.55 376.83,119.55 377.06,119.55 377.29,119.55 377.52,119.55 377.75,119.55 377.99,119.55 378.22,119.55 378.45,119.55 378.68,119.55 378.91,119.55 379.14,119.55 379.37,119.55 379.60,119.55 379.83,119.55 380.06,119.55 380.30,119.55 380.53,119.55 380.76,119.55 380.99,119.55 381.22,119.55 381.45,119.55 381.68,119.55 381.91,119.55 382.14,119.55 382.37,119.54 382.61,119.54 382.84,119.54 383.07,119.54 383.30,119.54 383.53,119.54 383.76,119.54 383.99,119.54 384.22,119.54 384.45,119.54 384.68,119.54 384.92,119.54 385.15,119.54 385.38,119.54 385.61,119.54 385.84,119.53 386.07,119.53 386.30,119.53 386.53,119.53 386.76,119.53 386.99,119.53 387.23,119.53 387.46,119.52 387.69,119.52 387.92,119.52 388.15,119.52 388.38,119.51 388.61,119.51 388.84,119.51 389.07,119.50 389.30,119.50 389.54,119.50 389.77,119.49 390.00,119.49 390.23,119.48 390.46,119.48 390.69,119.47 390.92,119.47 391.15,119.46 391.38,119.45 391.61,119.45 391.85,119.44 392.08,119.43 392.31,119.42 392.54,119.41 392.77,119.40 393.00,119.39 393.23,119.37 393.46,119.36 393.69,119.35 393.92,119.33 394.16,119.31 394.39,119.29 394.62,119.27 394.85,119.25 395.08,119.23 395.31,119.20 395.54,119.18 395.77,119.15 396.00,119.11 396.23,119.08 396.47,119.04 396.70,119.00 396.93,118.96 397.16,118.92 397.39,118.87 397.62,118.81 397.85,118.75 398.08,118.69 398.31,118.63 398.54,118.55 398.78,118.48 399.01,118.39 399.24,118.30 399.47,118.21 399.70,118.10 399.93,117.99 400.16,117.87 400.39,117.74 400.62,117.60 400.85,117.45 401.09,117.29 401.32,117.12 401.55,116.93 401.78,116.73 402.01,116.52 402.24,116.29 402.47,116.04 402.70,115.78 402.93,115.50 403.16,115.19 403.40,114.87 403.63,114.52 403.86,114.15 404.09,113.75 404.32,113.33 404.55,112.88 404.78,112.40 405.01,111.88 405.24,111.33 405.47,110.75 405.71,110.13 405.94,109.48 406.17,108.78 406.40,108.05 406.63,107.27 406.86,106.44 407.09,105.58 407.32,104.66 407.55,103.70 407.78,102.70 408.02,101.64 408.25,100.53 408.48,99.38 408.71,98.18 408.94,96.93 409.17,95.63 409.40,94.29 409.63,92.91 409.86,91.48 410.09,90.01 410.33,88.51 410.56,86.97 410.79,85.40 411.02,83.81 411.25,82.19 411.48,80.55 411.71,78.90 411.94,77.24 412.17,75.58 412.40,73.91 412.64,72.25 412.87,70.60 413.10,68.96 413.33,67.34 413.56,65.75 413.79,64.18 414.02,62.64 414.25,61.14 414.48,59.67 414.71,58.24 414.95,56.86 415.18,55.52 415.41,54.22 415.64,52.97 415.87,51.77 416.10,50.62 416.33,49.51 416.56,48.45 416.79,47.45 417.02,46.49 417.25,45.57 417.49,44.71 417.72,43.88 417.95,43.10 418.18,42.37 418.41,41.67 418.64,41.02 418.87,40.40 419.10,39.82 419.33,39.27 419.56,38.75 419.80,38.27 420.03,37.82 420.26,37.40 420.49,37.00 420.72,36.63 420.95,36.28 421.18,35.96 421.41,35.65 421.64,35.37 421.88,35.11 422.11,34.86 422.34,34.63 422.57,34.42 422.80,34.22 423.03,34.03 423.26,33.86 423.49,33.70 423.72,33.55 423.95,33.41 424.19,33.28 424.42,33.16 424.65,33.05 424.88,32.94 425.11,32.85 425.34,32.76 425.57,32.67 425.80,32.60 426.03,32.52 426.26,32.46 426.50,32.40 426.73,32.34 426.96,32.28 427.19,32.23 427.42,32.19 427.65,32.15 427.88,32.11 428.11,32.07 428.34,32.04 428.57,32.00 428.81,31.97 429.04,31.95 429.27,31.92 429.50,31.90 429.73,31.88 429.96,31.86 430.19,31.84 430.42,31.82 430.65,31.80 430.88,31.79 431.12,31.78 431.35,31.76 431.58,31.75 431.81,31.74 432.04,31.73 432.27,31.72 432.50,31.71 432.73,31.70 432.96,31.70 433.19,31.69 433.43,31.68 433.66,31.68 433.89,31.67 434.12,31.67 434.35,31.66 434.58,31.66 434.81,31.65 435.04,31.65 435.27,31.65 435.50,31.64 435.74,31.64 435.97,31.64 436.20,31.63 436.43,31.63 436.66,31.63 436.89,31.63 437.12,31.62 437.35,31.62 437.58,31.62 437.81,31.62 438.05,31.62 438.28,31.62 438.51,31.62 438.74,31.61 438.97,31.61 439.20,31.61 439.43,31.61 439.66,31.61 439.89,31.61 440.12,31.61 440.36,31.61 440.59,31.61 440.82,31.61 441.05,31.61 441.28,31.61 441.51,31.61 441.74,31.61 441.97,31.61 442.20,31.60 442.43,31.60 442.67,31.60 442.90,31.60 443.13,31.60 443.36,31.60 443.59,31.60 443.82,31.60 444.05,31.60 444.28,31.60 444.51,31.60 444.74,31.60 444.98,31.60 445.21,31.60 445.44,31.60 445.67,31.60 445.90,31.60 446.13,31.60 446.36,31.60 446.59,31.60 446.82,31.60 447.05,31.60 447.29,31.60 447.52,31.60 447.75,31.60 447.98,31.60 448.21,31.60 448.44,31.60 448.67,31.60 448.90,31.60 449.13,31.60 449.36,31.60 449.60,31.60 449.83,31.60 450.06,31.60 450.29,31.60 450.52,31.60 450.75,31.60 450.98,31.60 451.21,31.60 451.44,31.60 451.67,31.60 451.91,31.60 452.14,31.60 452.37,31.60 452.60,31.60 452.83,31.60 453.06,31.60 453.29,31.60 453.52,31.60 453.75,31.60 453.98,31.60 454.22,31.60 454.45,31.60 454.68,31.60 454.91,31.60 455.14,31.60 455.37,31.60 455.60,31.60 455.83,31.60 456.06,31.60 456.29,31.60 456.53,31.60 456.76,31.60 456.99,31.60 457.22,31.60 457.45,31.60 457.68,31.60 457.91,31.60 458.14,31.60 458.37,31.60 458.60,31.60 458.84,31.60 459.07,31.60 459.30,31.60 459.53,31.60 459.76,31.60 459.99,31.60 460.22,31.60 460.45,31.60 460.68,31.60 460.91,31.60 461.15,31.60 461.38,31.60 461.61,31.60 461.84,31.60 462.07,31.60 462.30,31.60 462.53,31.60 462.76,31.60 462.99,31.60 463.22,31.60 463.46,31.60 463.69,31.60 463.92,31.60 464.15,31.60 464.38,31.60 464.61,31.60 464.84,31.60 465.07,31.60 465.30,31.60 465.53,31.60 465.77,31.60 466.00,31.60 466.23,31.60 466.46,31.60 466.69,31.60 466.92,31.60 467.15,31.60 467.38,31.60 467.61,31.60 467.84,31.60 468.08,31.60 468.31,31.60 468.54,31.60 468.77,31.60 469.00,31.60 469.23,31.60 469.46,31.60 469.69,31.60 469.92,31.60 470.15,31.60 470.39,31.60 470.62,31.60 470.85,31.60 471.08,31.60 471.31,31.60 471.54,31.60 471.77,31.60 472.00,31.60 472.23,31.60 472.46,31.60 472.70,31.60 472.93,31.60 473.16,31.60 473.39,31.60 473.62,31.60 473.85,31.60 474.08,31.60 474.31,31.60 474.54,31.60 474.77,31.60 475.00,31.60 475.24,31.60 475.47,31.60 475.70,31.60 475.93,31.60 476.16,31.60 476.39,31.60 476.62,31.60 476.85,31.60 477.08,31.60 477.32,31.60 477.55,31.60 477.78,31.60 478.01,31.60 478.24,31.60 478.47,31.60 478.70,31.60 478.93,31.60 479.16,31.60 479.39,31.60 479.62,31.60 479.86,31.60 480.09,31.60 480.32,31.60 480.55,31.60 480.78,31.60 481.01,31.60 481.24,31.60 481.47,31.60 481.70,31.60 481.94,31.60 482.17,31.60 482.40,31.60 482.63,31.60 482.86,31.60 483.09,31.60 483.32,31.60 483.55,31.60 483.78,31.60 484.01,31.60 484.25,31.60 484.48,31.60 484.71,31.60 484.94,31.60 485.17,31.60 485.40,31.60 485.63,31.60 485.86,31.60 486.09,31.60 486.32,31.60 486.56,31.60 486.79,31.60 487.02,31.60 487.25,31.60 487.48,31.60 487.71,31.60 487.94,31.60 488.17,31.60 488.40,31.60 488.63,31.60 488.87,31.60 489.10,31.60 489.33,31.60 489.56,31.60 489.79,31.60 490.02,31.60 490.25,31.60 490.48,31.60 490.71,31.60 490.94,31.60 491.18,31.60 491.41,31.60 491.64,31.60 491.87,31.60 492.10,31.60 492.33,31.60 492.56,31.60 492.79,31.60 493.02,31.60 493.25,31.60 493.49,31.60 493.72,31.60 493.95,31.60 494.18,31.60 494.41,31.60 494.64,31.60 494.87,31.60 495.10,31.60 495.33,31.60 495.56,31.60 495.80,31.60 496.03,31.60 496.26,31.60 496.49,31.60 496.72,31.60 496.95,31.60 497.18,31.60 497.41,31.60 497.64,31.60 497.87,31.60 498.11,31.60 498.34,31.60 498.57,31.60 498.80,31.60 499.03,31.60 499.26,31.60 499.49,31.60 499.72,31.60 499.95,31.60 500.18,31.60 500.42,31.60 500.65,31.60 500.88,31.60 501.11,31.60 501.34,31.60 501.57,31.60 501.80,31.60 502.03,31.60 502.26,31.60 502.49,31.60 502.73,31.60 502.96,31.60 503.19,31.60 503.42,31.60 503.65,31.60 503.88,31.60 504.11,31.60 504.34,31.60 504.57,31.60 504.80,31.60 505.04,31.60 505.27,31.60 505.50,31.60 505.73,31.60 505.96,31.60 506.19,31.60 506.42,31.60 506.65,31.60 506.88,31.60 507.11,31.60 507.35,31.60 507.58,31.60 507.81,31.60 508.04,31.60 508.27,31.60 508.50,31.60 508.73,31.60 508.96,31.60 509.19,31.60 509.42,31.60 509.66,31.60 509.89,31.60 510.12,31.60 510.35,31.60 510.58,31.60 510.81,31.60 511.04,31.60 511.27,31.60 511.50,31.60 511.73,31.60 511.97,31.60 512.20,31.60 512.43,31.60 512.66,31.60 512.89,31.60 513.12,31.60" fill="none" stroke="#1f69a9" stroke-width="1.9"/>
<circle cx="319.08" cy="119.55" r="1.5" fill="#1f69a9"/>
<circle cx="343.57" cy="119.55" r="1.5" fill="#1f69a9"/>
<circle cx="366.20" cy="119.55" r="1.5" fill="#1f69a9"/>
<circle cx="383.76" cy="119.55" r="1.5" fill="#1f69a9"/>
<circle cx="388.84" cy="119.55" r="1.5" fill="#1f69a9"/>
<circle cx="393.69" cy="119.55" r="1.5" fill="#1f69a9"/>
<circle cx="398.31" cy="119.55" r="1.5" fill="#1f69a9"/>
<circle cx="402.70" cy="119.55" r="1.5" fill="#1f69a9"/>
<circle cx="407.09" cy="90.97" r="1.5" fill="#1f69a9"/>
<circle cx="411.80" cy="86.13" r="1.5" fill="#1f69a9"/>
<circle cx="415.87" cy="64.14" r="1.5" fill="#1f69a9"/>
<circle cx="420.72" cy="31.60" r="1.5" fill="#1f69a9"/>
<circle cx="425.34" cy="31.60" r="1.5" fill="#1f69a9"/>
<circle cx="429.96" cy="31.60" r="1.5" fill="#1f69a9"/>
<circle cx="434.58" cy="31.60" r="1.5" fill="#1f69a9"/>
<circle cx="439.20" cy="31.60" r="1.5" fill="#1f69a9"/>
<circle cx="443.82" cy="31.60" r="1.5" fill="#1f69a9"/>
<circle cx="453.06" cy="31.60" r="1.5" fill="#1f69a9"/>
<circle cx="462.30" cy="31.60" r="1.5" fill="#1f69a9"/>
<circle cx="476.16" cy="31.60" r="1.5" fill="#1f69a9"/>
<circle cx="490.02" cy="31.60" r="1.5" fill="#1f69a9"/>
<circle cx="513.12" cy="31.60" r="1.5" fill="#1f69a9"/>
<circle cx="319.08" cy="119.55" r="2.0" fill="#fff" fill-opacity="0.6" stroke="#ee5a5e" stroke-width="1.1"/>
<circle cx="355.58" cy="119.55" r="2.0" fill="#fff" fill-opacity="0.6" stroke="#ee5a5e" stroke-width="1.1"/>
<circle cx="358.81" cy="119.55" r="2.0" fill="#fff" fill-opacity="0.6" stroke="#ee5a5e" stroke-width="1.1"/>
<circle cx="361.58" cy="119.55" r="2.0" fill="#fff" fill-opacity="0.6" stroke="#ee5a5e" stroke-width="1.1"/>
<circle cx="364.82" cy="119.55" r="2.0" fill="#fff" fill-opacity="0.6" stroke="#ee5a5e" stroke-width="1.1"/>
<circle cx="370.36" cy="119.55" r="2.0" fill="#fff" fill-opacity="0.6" stroke="#ee5a5e" stroke-width="1.1"/>
<circle cx="375.44" cy="119.55" r="2.0" fill="#fff" fill-opacity="0.6" stroke="#ee5a5e" stroke-width="1.1"/>
<circle cx="379.60" cy="90.53" r="2.0" fill="#fff" fill-opacity="0.6" stroke="#ee5a5e" stroke-width="1.1"/>
<circle cx="384.22" cy="98.00" r="2.0" fill="#fff" fill-opacity="0.6" stroke="#ee5a5e" stroke-width="1.1"/>
<circle cx="393.92" cy="102.40" r="2.0" fill="#fff" fill-opacity="0.6" stroke="#ee5a5e" stroke-width="1.1"/>
<circle cx="398.08" cy="107.24" r="2.0" fill="#fff" fill-opacity="0.6" stroke="#ee5a5e" stroke-width="1.1"/>
<circle cx="401.78" cy="94.04" r="2.0" fill="#fff" fill-opacity="0.6" stroke="#ee5a5e" stroke-width="1.1"/>
<circle cx="411.94" cy="65.02" r="2.0" fill="#fff" fill-opacity="0.6" stroke="#ee5a5e" stroke-width="1.1"/>
<circle cx="416.56" cy="66.78" r="2.0" fill="#fff" fill-opacity="0.6" stroke="#ee5a5e" stroke-width="1.1"/>
<circle cx="421.64" cy="53.59" r="2.0" fill="#fff" fill-opacity="0.6" stroke="#ee5a5e" stroke-width="1.1"/>
<circle cx="426.26" cy="43.91" r="2.0" fill="#fff" fill-opacity="0.6" stroke="#ee5a5e" stroke-width="1.1"/>
<circle cx="439.20" cy="61.50" r="2.0" fill="#fff" fill-opacity="0.6" stroke="#ee5a5e" stroke-width="1.1"/>
<circle cx="429.96" cy="31.60" r="2.0" fill="#fff" fill-opacity="0.6" stroke="#ee5a5e" stroke-width="1.1"/>
<circle cx="436.89" cy="31.60" r="2.0" fill="#fff" fill-opacity="0.6" stroke="#ee5a5e" stroke-width="1.1"/>
<circle cx="451.67" cy="31.60" r="2.0" fill="#fff" fill-opacity="0.6" stroke="#ee5a5e" stroke-width="1.1"/>
<circle cx="461.38" cy="31.60" r="2.0" fill="#fff" fill-opacity="0.6" stroke="#ee5a5e" stroke-width="1.1"/>
<circle cx="466.46" cy="31.60" r="2.0" fill="#fff" fill-opacity="0.6" stroke="#ee5a5e" stroke-width="1.1"/>
<circle cx="489.56" cy="31.60" r="2.0" fill="#fff" fill-opacity="0.6" stroke="#ee5a5e" stroke-width="1.1"/>
<circle cx="513.12" cy="31.60" r="2.0" fill="#fff" fill-opacity="0.6" stroke="#ee5a5e" stroke-width="1.1"/>
<rect x="410.80" y="71.30" width="4.4" height="4.4" fill="#1f69a9"/>
<rect x="406.40" y="74.20" width="4.4" height="4.4" fill="#ee5a5e"/>
<rect x="444.3" y="74.4" width="68.2" height="40.2" rx="1" fill="#fff" stroke="#555" stroke-width="0.9"/>
<line x1="448.40" y1="80.30" x2="473.90" y2="80.30" stroke="#1f69a9" stroke-width="1.8"/>
<circle cx="461.1" cy="80.3" r="1.5" fill="#1f69a9"/>
<line x1="448.40" y1="93.80" x2="473.90" y2="93.80" stroke="#ee5a5e" stroke-width="1.5" stroke-dasharray="4.5,3"/>
<circle cx="461.1" cy="93.8" r="1.9" fill="#fff" stroke="#ee5a5e" stroke-width="1"/>
<rect x="454.4" y="106" width="4.4" height="4.6" fill="#1f69a9"/>
<rect x="463.1" y="106" width="4.4" height="4.6" fill="#ee5a5e"/>
<text x="475.30" y="83.20" font-size="8" text-anchor="start" font-weight="bold" fill="#111">Control</text>
<text x="475.30" y="96.70" font-size="8" text-anchor="start" font-weight="bold" fill="#111">Diabetes</text>
<text x="475.30" y="111.00" font-size="8" text-anchor="start" font-weight="bold" fill="#111">Midpoint</text>
<rect x="35.20" y="242.41" width="20.6" height="20.69" fill="#a3a3a6" stroke="#1f69a9" stroke-width="1.3"/>
<rect x="67.00" y="233.54" width="20.6" height="29.56" fill="#a3a3a6" stroke="#ee5a5e" stroke-width="1.3"/>
<line x1="25.10" y1="189.20" x2="25.10" y2="263.80" stroke="#111" stroke-width="1.5"/>
<line x1="25.10" y1="263.10" x2="99.60" y2="263.10" stroke="#111" stroke-width="1.5"/>
<line x1="25.10" y1="263.10" x2="27.50" y2="263.10" stroke="#111" stroke-width="1.3"/>
<text x="22.40" y="266.60" font-size="10" text-anchor="end" font-weight="bold" fill="#111">0</text>
<line x1="25.10" y1="248.32" x2="27.50" y2="248.32" stroke="#111" stroke-width="1.3"/>
<text x="22.40" y="251.82" font-size="10" text-anchor="end" font-weight="bold" fill="#111">1</text>
<line x1="25.10" y1="233.54" x2="27.50" y2="233.54" stroke="#111" stroke-width="1.3"/>
<text x="22.40" y="237.04" font-size="10" text-anchor="end" font-weight="bold" fill="#111">2</text>
<line x1="25.10" y1="218.76" x2="27.50" y2="218.76" stroke="#111" stroke-width="1.3"/>
<text x="22.40" y="222.26" font-size="10" text-anchor="end" font-weight="bold" fill="#111">3</text>
<line x1="25.10" y1="203.98" x2="27.50" y2="203.98" stroke="#111" stroke-width="1.3"/>
<text x="22.40" y="207.48" font-size="10" text-anchor="end" font-weight="bold" fill="#111">4</text>
<line x1="25.10" y1="189.20" x2="27.50" y2="189.20" stroke="#111" stroke-width="1.3"/>
<text x="22.40" y="192.70" font-size="10" text-anchor="end" font-weight="bold" fill="#111">5</text>
<line x1="45.50" y1="263.10" x2="45.50" y2="265.70" stroke="#111" stroke-width="1.3"/>
<line x1="77.30" y1="263.10" x2="77.30" y2="265.70" stroke="#111" stroke-width="1.3"/>
<circle cx="46.36" cy="196.15" r="2.1" fill="#dcdcdc" stroke="#1f69a9" stroke-width="1.05"/>
<circle cx="45.54" cy="206.34" r="2.1" fill="#dcdcdc" stroke="#1f69a9" stroke-width="1.05"/>
<circle cx="49.51" cy="220.24" r="2.1" fill="#dcdcdc" stroke="#1f69a9" stroke-width="1.05"/>
<circle cx="43.46" cy="220.98" r="2.1" fill="#dcdcdc" stroke="#1f69a9" stroke-width="1.05"/>
<circle cx="39.21" cy="222.01" r="2.1" fill="#dcdcdc" stroke="#1f69a9" stroke-width="1.05"/>
<circle cx="51.89" cy="223.19" r="2.1" fill="#dcdcdc" stroke="#1f69a9" stroke-width="1.05"/>
<circle cx="46.83" cy="224.08" r="2.1" fill="#dcdcdc" stroke="#1f69a9" stroke-width="1.05"/>
<circle cx="42.31" cy="224.67" r="2.1" fill="#dcdcdc" stroke="#1f69a9" stroke-width="1.05"/>
<circle cx="45.14" cy="227.04" r="2.1" fill="#dcdcdc" stroke="#1f69a9" stroke-width="1.05"/>
<circle cx="46.47" cy="236.50" r="2.1" fill="#dcdcdc" stroke="#1f69a9" stroke-width="1.05"/>
<circle cx="39.76" cy="240.93" r="2.1" fill="#dcdcdc" stroke="#1f69a9" stroke-width="1.05"/>
<circle cx="51.99" cy="241.67" r="2.1" fill="#dcdcdc" stroke="#1f69a9" stroke-width="1.05"/>
<circle cx="45.51" cy="242.41" r="2.1" fill="#dcdcdc" stroke="#1f69a9" stroke-width="1.05"/>
<circle cx="37.37" cy="243.15" r="2.1" fill="#dcdcdc" stroke="#1f69a9" stroke-width="1.05"/>
<circle cx="49.01" cy="243.89" r="2.1" fill="#dcdcdc" stroke="#1f69a9" stroke-width="1.05"/>
<circle cx="41.92" cy="244.62" r="2.1" fill="#dcdcdc" stroke="#1f69a9" stroke-width="1.05"/>
<circle cx="53.00" cy="245.36" r="2.1" fill="#dcdcdc" stroke="#1f69a9" stroke-width="1.05"/>
<circle cx="45.17" cy="246.10" r="2.1" fill="#dcdcdc" stroke="#1f69a9" stroke-width="1.05"/>
<circle cx="38.66" cy="246.84" r="2.1" fill="#dcdcdc" stroke="#1f69a9" stroke-width="1.05"/>
<circle cx="49.61" cy="247.58" r="2.1" fill="#dcdcdc" stroke="#1f69a9" stroke-width="1.05"/>
<circle cx="42.64" cy="248.32" r="2.1" fill="#dcdcdc" stroke="#1f69a9" stroke-width="1.05"/>
<circle cx="52.76" cy="249.06" r="2.1" fill="#dcdcdc" stroke="#1f69a9" stroke-width="1.05"/>
<circle cx="39.84" cy="249.80" r="2.1" fill="#dcdcdc" stroke="#1f69a9" stroke-width="1.05"/>
<circle cx="46.19" cy="250.54" r="2.1" fill="#dcdcdc" stroke="#1f69a9" stroke-width="1.05"/>
<circle cx="50.74" cy="251.28" r="2.1" fill="#dcdcdc" stroke="#1f69a9" stroke-width="1.05"/>
<circle cx="37.36" cy="252.02" r="2.1" fill="#dcdcdc" stroke="#1f69a9" stroke-width="1.05"/>
<circle cx="41.96" cy="252.75" r="2.1" fill="#dcdcdc" stroke="#1f69a9" stroke-width="1.05"/>
<circle cx="53.16" cy="253.49" r="2.1" fill="#dcdcdc" stroke="#1f69a9" stroke-width="1.05"/>
<circle cx="47.47" cy="254.23" r="2.1" fill="#dcdcdc" stroke="#1f69a9" stroke-width="1.05"/>
<circle cx="44.21" cy="254.97" r="2.1" fill="#dcdcdc" stroke="#1f69a9" stroke-width="1.05"/>
<line x1="45.50" y1="242.41" x2="45.50" y2="227.63" stroke="#1f69a9" stroke-width="1.3"/>
<line x1="41.00" y1="227.63" x2="50.00" y2="227.63" stroke="#1f69a9" stroke-width="1.3"/>
<circle cx="77.72" cy="205.75" r="2.1" fill="#dcdcdc" stroke="#ee5a5e" stroke-width="1.05"/>
<circle cx="73.21" cy="205.75" r="2.1" fill="#dcdcdc" stroke="#ee5a5e" stroke-width="1.05"/>
<circle cx="80.90" cy="206.20" r="2.1" fill="#dcdcdc" stroke="#ee5a5e" stroke-width="1.05"/>
<circle cx="83.34" cy="206.94" r="2.1" fill="#dcdcdc" stroke="#ee5a5e" stroke-width="1.05"/>
<circle cx="74.77" cy="209.89" r="2.1" fill="#dcdcdc" stroke="#ee5a5e" stroke-width="1.05"/>
<circle cx="80.73" cy="212.85" r="2.1" fill="#dcdcdc" stroke="#ee5a5e" stroke-width="1.05"/>
<circle cx="73.00" cy="214.33" r="2.1" fill="#dcdcdc" stroke="#ee5a5e" stroke-width="1.05"/>
<circle cx="78.31" cy="216.99" r="2.1" fill="#dcdcdc" stroke="#ee5a5e" stroke-width="1.05"/>
<circle cx="73.06" cy="218.76" r="2.1" fill="#dcdcdc" stroke="#ee5a5e" stroke-width="1.05"/>
<circle cx="81.38" cy="220.24" r="2.1" fill="#dcdcdc" stroke="#ee5a5e" stroke-width="1.05"/>
<circle cx="76.25" cy="222.01" r="2.1" fill="#dcdcdc" stroke="#ee5a5e" stroke-width="1.05"/>
<circle cx="80.84" cy="224.67" r="2.1" fill="#dcdcdc" stroke="#ee5a5e" stroke-width="1.05"/>
<circle cx="72.94" cy="226.15" r="2.1" fill="#dcdcdc" stroke="#ee5a5e" stroke-width="1.05"/>
<circle cx="77.30" cy="228.22" r="2.1" fill="#dcdcdc" stroke="#ee5a5e" stroke-width="1.05"/>
<circle cx="81.62" cy="230.58" r="2.1" fill="#dcdcdc" stroke="#ee5a5e" stroke-width="1.05"/>
<circle cx="73.01" cy="232.36" r="2.1" fill="#dcdcdc" stroke="#ee5a5e" stroke-width="1.05"/>
<circle cx="77.85" cy="234.28" r="2.1" fill="#dcdcdc" stroke="#ee5a5e" stroke-width="1.05"/>
<circle cx="83.80" cy="235.02" r="2.1" fill="#dcdcdc" stroke="#ee5a5e" stroke-width="1.05"/>
<circle cx="71.03" cy="236.50" r="2.1" fill="#dcdcdc" stroke="#ee5a5e" stroke-width="1.05"/>
<circle cx="80.88" cy="237.97" r="2.1" fill="#dcdcdc" stroke="#ee5a5e" stroke-width="1.05"/>
<circle cx="75.96" cy="239.45" r="2.1" fill="#dcdcdc" stroke="#ee5a5e" stroke-width="1.05"/>
<circle cx="71.34" cy="240.93" r="2.1" fill="#dcdcdc" stroke="#ee5a5e" stroke-width="1.05"/>
<circle cx="83.40" cy="241.67" r="2.1" fill="#dcdcdc" stroke="#ee5a5e" stroke-width="1.05"/>
<circle cx="77.79" cy="243.44" r="2.1" fill="#dcdcdc" stroke="#ee5a5e" stroke-width="1.05"/>
<circle cx="73.23" cy="244.62" r="2.1" fill="#dcdcdc" stroke="#ee5a5e" stroke-width="1.05"/>
<circle cx="81.48" cy="246.10" r="2.1" fill="#dcdcdc" stroke="#ee5a5e" stroke-width="1.05"/>
<circle cx="76.45" cy="247.58" r="2.1" fill="#dcdcdc" stroke="#ee5a5e" stroke-width="1.05"/>
<circle cx="72.81" cy="249.06" r="2.1" fill="#dcdcdc" stroke="#ee5a5e" stroke-width="1.05"/>
<circle cx="81.33" cy="249.65" r="2.1" fill="#dcdcdc" stroke="#ee5a5e" stroke-width="1.05"/>
<line x1="77.30" y1="233.54" x2="77.30" y2="219.50" stroke="#ee5a5e" stroke-width="1.3"/>
<line x1="72.80" y1="219.50" x2="81.80" y2="219.50" stroke="#ee5a5e" stroke-width="1.3"/>
<text x="49.00" y="275.30" font-size="10.3" text-anchor="end" font-weight="bold" fill="#111" transform="rotate(-45 49.0 275.3)">Control</text>
<text x="80.80" y="275.30" font-size="10.3" text-anchor="end" font-weight="bold" fill="#111" transform="rotate(-45 80.80000000000001 275.3)">Diabetes</text>
<text x="10.70" y="226.00" font-size="10.9" text-anchor="middle" font-weight="bold" fill="#111" transform="rotate(-90 10.7 226.0)">Threshold (°)</text>
<polyline points="45.50,188.00 45.50,181.70 77.30,181.70 77.30,199.50" fill="none" stroke="#111" stroke-width="1.4"/>
<path d="M53.50,171.50L58.10,171.50M54.65,169.51L56.95,173.49M56.95,169.51L54.65,173.49" stroke="#333" stroke-width="1.05" fill="none"/>
<path d="M59.10,171.50L63.70,171.50M60.25,169.51L62.55,173.49M62.55,169.51L60.25,173.49" stroke="#333" stroke-width="1.05" fill="none"/>
<path d="M64.70,171.50L69.30,171.50M65.85,169.51L68.15,173.49M68.15,169.51L65.85,173.49" stroke="#333" stroke-width="1.05" fill="none"/>
<rect x="179.00" y="244.93" width="20.6" height="18.38" fill="#a3a3a6" stroke="#1f69a9" stroke-width="1.3"/>
<rect x="210.30" y="239.96" width="20.6" height="23.34" fill="#a3a3a6" stroke="#ee5a5e" stroke-width="1.3"/>
<line x1="168.10" y1="189.80" x2="168.10" y2="264.00" stroke="#111" stroke-width="1.5"/>
<line x1="168.10" y1="263.30" x2="242.60" y2="263.30" stroke="#111" stroke-width="1.5"/>
<line x1="168.10" y1="263.30" x2="170.50" y2="263.30" stroke="#111" stroke-width="1.3"/>
<text x="165.40" y="266.80" font-size="10" text-anchor="end" font-weight="bold" fill="#111">0</text>
<line x1="168.10" y1="244.93" x2="170.50" y2="244.93" stroke="#111" stroke-width="1.3"/>
<text x="165.40" y="248.43" font-size="10" text-anchor="end" font-weight="bold" fill="#111">1</text>
<line x1="168.10" y1="226.55" x2="170.50" y2="226.55" stroke="#111" stroke-width="1.3"/>
<text x="165.40" y="230.05" font-size="10" text-anchor="end" font-weight="bold" fill="#111">2</text>
<line x1="168.10" y1="208.18" x2="170.50" y2="208.18" stroke="#111" stroke-width="1.3"/>
<text x="165.40" y="211.68" font-size="10" text-anchor="end" font-weight="bold" fill="#111">3</text>
<line x1="168.10" y1="189.80" x2="170.50" y2="189.80" stroke="#111" stroke-width="1.3"/>
<text x="165.40" y="193.30" font-size="10" text-anchor="end" font-weight="bold" fill="#111">4</text>
<line x1="189.30" y1="263.30" x2="189.30" y2="265.90" stroke="#111" stroke-width="1.3"/>
<line x1="220.60" y1="263.30" x2="220.60" y2="265.90" stroke="#111" stroke-width="1.3"/>
<circle cx="188.96" cy="196.23" r="2.1" fill="#dcdcdc" stroke="#1f69a9" stroke-width="1.05"/>
<circle cx="188.53" cy="221.96" r="2.1" fill="#dcdcdc" stroke="#1f69a9" stroke-width="1.05"/>
<circle cx="192.39" cy="225.63" r="2.1" fill="#dcdcdc" stroke="#1f69a9" stroke-width="1.05"/>
<circle cx="184.87" cy="226.55" r="2.1" fill="#dcdcdc" stroke="#1f69a9" stroke-width="1.05"/>
<circle cx="195.62" cy="228.39" r="2.1" fill="#dcdcdc" stroke="#1f69a9" stroke-width="1.05"/>
<circle cx="189.50" cy="230.23" r="2.1" fill="#dcdcdc" stroke="#1f69a9" stroke-width="1.05"/>
<circle cx="185.88" cy="231.14" r="2.1" fill="#dcdcdc" stroke="#1f69a9" stroke-width="1.05"/>
<circle cx="193.64" cy="233.90" r="2.1" fill="#dcdcdc" stroke="#1f69a9" stroke-width="1.05"/>
<circle cx="188.69" cy="234.82" r="2.1" fill="#dcdcdc" stroke="#1f69a9" stroke-width="1.05"/>
<circle cx="183.42" cy="235.74" r="2.1" fill="#dcdcdc" stroke="#1f69a9" stroke-width="1.05"/>
<circle cx="195.68" cy="237.58" r="2.1" fill="#dcdcdc" stroke="#1f69a9" stroke-width="1.05"/>
<circle cx="191.01" cy="238.49" r="2.1" fill="#dcdcdc" stroke="#1f69a9" stroke-width="1.05"/>
<circle cx="185.06" cy="239.41" r="2.1" fill="#dcdcdc" stroke="#1f69a9" stroke-width="1.05"/>
<circle cx="194.03" cy="241.25" r="2.1" fill="#dcdcdc" stroke="#1f69a9" stroke-width="1.05"/>
<circle cx="187.71" cy="242.17" r="2.1" fill="#dcdcdc" stroke="#1f69a9" stroke-width="1.05"/>
<circle cx="191.13" cy="243.09" r="2.1" fill="#dcdcdc" stroke="#1f69a9" stroke-width="1.05"/>
<circle cx="183.11" cy="244.93" r="2.1" fill="#dcdcdc" stroke="#1f69a9" stroke-width="1.05"/>
<circle cx="194.82" cy="245.84" r="2.1" fill="#dcdcdc" stroke="#1f69a9" stroke-width="1.05"/>
<circle cx="189.23" cy="246.76" r="2.1" fill="#dcdcdc" stroke="#1f69a9" stroke-width="1.05"/>
<circle cx="185.16" cy="247.68" r="2.1" fill="#dcdcdc" stroke="#1f69a9" stroke-width="1.05"/>
<circle cx="192.26" cy="248.60" r="2.1" fill="#dcdcdc" stroke="#1f69a9" stroke-width="1.05"/>
<circle cx="195.74" cy="249.52" r="2.1" fill="#dcdcdc" stroke="#1f69a9" stroke-width="1.05"/>
<circle cx="188.87" cy="250.44" r="2.1" fill="#dcdcdc" stroke="#1f69a9" stroke-width="1.05"/>
<circle cx="183.02" cy="252.28" r="2.1" fill="#dcdcdc" stroke="#1f69a9" stroke-width="1.05"/>
<circle cx="193.15" cy="253.19" r="2.1" fill="#dcdcdc" stroke="#1f69a9" stroke-width="1.05"/>
<circle cx="186.68" cy="254.11" r="2.1" fill="#dcdcdc" stroke="#1f69a9" stroke-width="1.05"/>
<circle cx="197.04" cy="255.03" r="2.1" fill="#dcdcdc" stroke="#1f69a9" stroke-width="1.05"/>
<circle cx="181.23" cy="255.95" r="2.1" fill="#dcdcdc" stroke="#1f69a9" stroke-width="1.05"/>
<circle cx="191.25" cy="256.87" r="2.1" fill="#dcdcdc" stroke="#1f69a9" stroke-width="1.05"/>
<circle cx="184.87" cy="257.79" r="2.1" fill="#dcdcdc" stroke="#1f69a9" stroke-width="1.05"/>
<circle cx="195.10" cy="258.71" r="2.1" fill="#dcdcdc" stroke="#1f69a9" stroke-width="1.05"/>
<circle cx="189.20" cy="259.62" r="2.1" fill="#dcdcdc" stroke="#1f69a9" stroke-width="1.05"/>
<circle cx="181.90" cy="260.54" r="2.1" fill="#dcdcdc" stroke="#1f69a9" stroke-width="1.05"/>
<circle cx="185.88" cy="261.46" r="2.1" fill="#dcdcdc" stroke="#1f69a9" stroke-width="1.05"/>
<circle cx="192.88" cy="262.38" r="2.1" fill="#dcdcdc" stroke="#1f69a9" stroke-width="1.05"/>
<circle cx="189.87" cy="262.93" r="2.1" fill="#dcdcdc" stroke="#1f69a9" stroke-width="1.05"/>
<line x1="189.30" y1="244.93" x2="189.30" y2="230.23" stroke="#1f69a9" stroke-width="1.3"/>
<line x1="184.80" y1="230.23" x2="193.80" y2="230.23" stroke="#1f69a9" stroke-width="1.3"/>
<circle cx="219.97" cy="200.46" r="2.1" fill="#dcdcdc" stroke="#ee5a5e" stroke-width="1.05"/>
<circle cx="221.71" cy="202.66" r="2.1" fill="#dcdcdc" stroke="#ee5a5e" stroke-width="1.05"/>
<circle cx="219.69" cy="208.18" r="2.1" fill="#dcdcdc" stroke="#ee5a5e" stroke-width="1.05"/>
<circle cx="223.08" cy="212.77" r="2.1" fill="#dcdcdc" stroke="#ee5a5e" stroke-width="1.05"/>
<circle cx="218.13" cy="212.77" r="2.1" fill="#dcdcdc" stroke="#ee5a5e" stroke-width="1.05"/>
<circle cx="220.41" cy="218.28" r="2.1" fill="#dcdcdc" stroke="#ee5a5e" stroke-width="1.05"/>
<circle cx="222.96" cy="220.12" r="2.1" fill="#dcdcdc" stroke="#ee5a5e" stroke-width="1.05"/>
<circle cx="219.79" cy="224.71" r="2.1" fill="#dcdcdc" stroke="#ee5a5e" stroke-width="1.05"/>
<circle cx="221.59" cy="229.12" r="2.1" fill="#dcdcdc" stroke="#ee5a5e" stroke-width="1.05"/>
<circle cx="218.46" cy="236.66" r="2.1" fill="#dcdcdc" stroke="#ee5a5e" stroke-width="1.05"/>
<circle cx="224.31" cy="239.41" r="2.1" fill="#dcdcdc" stroke="#ee5a5e" stroke-width="1.05"/>
<circle cx="216.89" cy="241.25" r="2.1" fill="#dcdcdc" stroke="#ee5a5e" stroke-width="1.05"/>
<circle cx="222.23" cy="243.09" r="2.1" fill="#dcdcdc" stroke="#ee5a5e" stroke-width="1.05"/>
<circle cx="227.10" cy="244.01" r="2.1" fill="#dcdcdc" stroke="#ee5a5e" stroke-width="1.05"/>
<circle cx="218.57" cy="244.93" r="2.1" fill="#dcdcdc" stroke="#ee5a5e" stroke-width="1.05"/>
<circle cx="222.60" cy="246.76" r="2.1" fill="#dcdcdc" stroke="#ee5a5e" stroke-width="1.05"/>
<circle cx="217.13" cy="248.60" r="2.1" fill="#dcdcdc" stroke="#ee5a5e" stroke-width="1.05"/>
<circle cx="224.82" cy="250.44" r="2.1" fill="#dcdcdc" stroke="#ee5a5e" stroke-width="1.05"/>
<circle cx="214.23" cy="251.36" r="2.1" fill="#dcdcdc" stroke="#ee5a5e" stroke-width="1.05"/>
<circle cx="220.47" cy="252.28" r="2.1" fill="#dcdcdc" stroke="#ee5a5e" stroke-width="1.05"/>
<circle cx="226.41" cy="254.11" r="2.1" fill="#dcdcdc" stroke="#ee5a5e" stroke-width="1.05"/>
<circle cx="216.77" cy="255.03" r="2.1" fill="#dcdcdc" stroke="#ee5a5e" stroke-width="1.05"/>
<circle cx="222.79" cy="255.95" r="2.1" fill="#dcdcdc" stroke="#ee5a5e" stroke-width="1.05"/>
<circle cx="226.78" cy="257.79" r="2.1" fill="#dcdcdc" stroke="#ee5a5e" stroke-width="1.05"/>
<circle cx="214.29" cy="258.71" r="2.1" fill="#dcdcdc" stroke="#ee5a5e" stroke-width="1.05"/>
<circle cx="219.05" cy="259.62" r="2.1" fill="#dcdcdc" stroke="#ee5a5e" stroke-width="1.05"/>
<circle cx="223.76" cy="261.46" r="2.1" fill="#dcdcdc" stroke="#ee5a5e" stroke-width="1.05"/>
<circle cx="216.56" cy="262.38" r="2.1" fill="#dcdcdc" stroke="#ee5a5e" stroke-width="1.05"/>
<line x1="220.60" y1="239.96" x2="220.60" y2="221.04" stroke="#ee5a5e" stroke-width="1.3"/>
<line x1="216.10" y1="221.04" x2="225.10" y2="221.04" stroke="#ee5a5e" stroke-width="1.3"/>
<text x="192.80" y="275.50" font-size="10.3" text-anchor="end" font-weight="bold" fill="#111" transform="rotate(-45 192.79999999999998 275.5)">Control</text>
<text x="224.10" y="275.50" font-size="10.3" text-anchor="end" font-weight="bold" fill="#111" transform="rotate(-45 224.1 275.5)">Diabetes</text>
<text x="153.30" y="227.20" font-size="10.5" text-anchor="middle" font-weight="bold" fill="#111" transform="rotate(-90 153.3 227.2)">Bias (°)</text>
<polyline points="189.30,188.00 189.30,181.70 220.60,181.70 220.60,195.70" fill="none" stroke="#111" stroke-width="1.4"/>
<text x="204.95" y="175.00" font-size="10.5" text-anchor="middle" font-weight="normal" fill="#222">ns</text>
<rect x="306.80" y="253.93" width="20.6" height="9.18" fill="#a3a3a6" stroke="#1f69a9" stroke-width="1.3"/>
<rect x="338.50" y="248.79" width="20.6" height="14.31" fill="#a3a3a6" stroke="#ee5a5e" stroke-width="1.3"/>
<line x1="296.70" y1="189.70" x2="296.70" y2="263.80" stroke="#111" stroke-width="1.5"/>
<line x1="296.70" y1="263.10" x2="371.20" y2="263.10" stroke="#111" stroke-width="1.5"/>
<line x1="296.70" y1="263.10" x2="299.10" y2="263.10" stroke="#111" stroke-width="1.3"/>
<text x="294.00" y="266.60" font-size="10" text-anchor="end" font-weight="bold" fill="#111">0</text>
<line x1="296.70" y1="244.75" x2="299.10" y2="244.75" stroke="#111" stroke-width="1.3"/>
<text x="294.00" y="248.25" font-size="10" text-anchor="end" font-weight="bold" fill="#111">1</text>
<line x1="296.70" y1="226.40" x2="299.10" y2="226.40" stroke="#111" stroke-width="1.3"/>
<text x="294.00" y="229.90" font-size="10" text-anchor="end" font-weight="bold" fill="#111">2</text>
<line x1="296.70" y1="208.05" x2="299.10" y2="208.05" stroke="#111" stroke-width="1.3"/>
<text x="294.00" y="211.55" font-size="10" text-anchor="end" font-weight="bold" fill="#111">3</text>
<line x1="296.70" y1="189.70" x2="299.10" y2="189.70" stroke="#111" stroke-width="1.3"/>
<text x="294.00" y="193.20" font-size="10" text-anchor="end" font-weight="bold" fill="#111">4</text>
<line x1="317.10" y1="263.10" x2="317.10" y2="265.70" stroke="#111" stroke-width="1.3"/>
<line x1="348.80" y1="263.10" x2="348.80" y2="265.70" stroke="#111" stroke-width="1.3"/>
<circle cx="317.85" cy="215.02" r="2.1" fill="#dcdcdc" stroke="#1f69a9" stroke-width="1.05"/>
<circle cx="318.62" cy="230.07" r="2.1" fill="#dcdcdc" stroke="#1f69a9" stroke-width="1.05"/>
<circle cx="313.32" cy="231.54" r="2.1" fill="#dcdcdc" stroke="#1f69a9" stroke-width="1.05"/>
<circle cx="316.96" cy="233.92" r="2.1" fill="#dcdcdc" stroke="#1f69a9" stroke-width="1.05"/>
<circle cx="317.96" cy="242.92" r="2.1" fill="#dcdcdc" stroke="#1f69a9" stroke-width="1.05"/>
<circle cx="313.14" cy="246.59" r="2.1" fill="#dcdcdc" stroke="#1f69a9" stroke-width="1.05"/>
<circle cx="323.49" cy="248.42" r="2.1" fill="#dcdcdc" stroke="#1f69a9" stroke-width="1.05"/>
<circle cx="317.47" cy="249.34" r="2.1" fill="#dcdcdc" stroke="#1f69a9" stroke-width="1.05"/>
<circle cx="310.76" cy="250.26" r="2.1" fill="#dcdcdc" stroke="#1f69a9" stroke-width="1.05"/>
<circle cx="321.89" cy="251.17" r="2.1" fill="#dcdcdc" stroke="#1f69a9" stroke-width="1.05"/>
<circle cx="315.98" cy="252.09" r="2.1" fill="#dcdcdc" stroke="#1f69a9" stroke-width="1.05"/>
<circle cx="312.94" cy="253.01" r="2.1" fill="#dcdcdc" stroke="#1f69a9" stroke-width="1.05"/>
<circle cx="309.44" cy="253.93" r="2.1" fill="#dcdcdc" stroke="#1f69a9" stroke-width="1.05"/>
<circle cx="325.25" cy="254.84" r="2.1" fill="#dcdcdc" stroke="#1f69a9" stroke-width="1.05"/>
<circle cx="320.05" cy="255.39" r="2.1" fill="#dcdcdc" stroke="#1f69a9" stroke-width="1.05"/>
<circle cx="315.94" cy="255.76" r="2.1" fill="#dcdcdc" stroke="#1f69a9" stroke-width="1.05"/>
<circle cx="311.95" cy="256.13" r="2.1" fill="#dcdcdc" stroke="#1f69a9" stroke-width="1.05"/>
<circle cx="322.68" cy="256.68" r="2.1" fill="#dcdcdc" stroke="#1f69a9" stroke-width="1.05"/>
<circle cx="318.50" cy="257.23" r="2.1" fill="#dcdcdc" stroke="#1f69a9" stroke-width="1.05"/>
<circle cx="309.75" cy="257.60" r="2.1" fill="#dcdcdc" stroke="#1f69a9" stroke-width="1.05"/>
<circle cx="325.02" cy="257.96" r="2.1" fill="#dcdcdc" stroke="#1f69a9" stroke-width="1.05"/>
<circle cx="314.48" cy="258.51" r="2.1" fill="#dcdcdc" stroke="#1f69a9" stroke-width="1.05"/>
<circle cx="320.54" cy="259.06" r="2.1" fill="#dcdcdc" stroke="#1f69a9" stroke-width="1.05"/>
<circle cx="311.98" cy="259.43" r="2.1" fill="#dcdcdc" stroke="#1f69a9" stroke-width="1.05"/>
<circle cx="317.11" cy="259.80" r="2.1" fill="#dcdcdc" stroke="#1f69a9" stroke-width="1.05"/>
<circle cx="324.91" cy="260.35" r="2.1" fill="#dcdcdc" stroke="#1f69a9" stroke-width="1.05"/>
<circle cx="313.94" cy="260.90" r="2.1" fill="#dcdcdc" stroke="#1f69a9" stroke-width="1.05"/>
<circle cx="322.10" cy="261.27" r="2.1" fill="#dcdcdc" stroke="#1f69a9" stroke-width="1.05"/>
<circle cx="319.18" cy="261.63" r="2.1" fill="#dcdcdc" stroke="#1f69a9" stroke-width="1.05"/>
<circle cx="315.94" cy="262.18" r="2.1" fill="#dcdcdc" stroke="#1f69a9" stroke-width="1.05"/>
<circle cx="309.65" cy="262.55" r="2.1" fill="#dcdcdc" stroke="#1f69a9" stroke-width="1.05"/>
<line x1="317.10" y1="253.93" x2="317.10" y2="242.92" stroke="#1f69a9" stroke-width="1.3"/>
<line x1="312.60" y1="242.92" x2="321.60" y2="242.92" stroke="#1f69a9" stroke-width="1.3"/>
<circle cx="347.87" cy="207.50" r="2.1" fill="#dcdcdc" stroke="#ee5a5e" stroke-width="1.05"/>
<circle cx="349.81" cy="225.30" r="2.1" fill="#dcdcdc" stroke="#ee5a5e" stroke-width="1.05"/>
<circle cx="345.03" cy="227.87" r="2.1" fill="#dcdcdc" stroke="#ee5a5e" stroke-width="1.05"/>
<circle cx="353.25" cy="230.99" r="2.1" fill="#dcdcdc" stroke="#ee5a5e" stroke-width="1.05"/>
<circle cx="347.72" cy="233.74" r="2.1" fill="#dcdcdc" stroke="#ee5a5e" stroke-width="1.05"/>
<circle cx="352.93" cy="236.68" r="2.1" fill="#dcdcdc" stroke="#ee5a5e" stroke-width="1.05"/>
<circle cx="344.95" cy="239.25" r="2.1" fill="#dcdcdc" stroke="#ee5a5e" stroke-width="1.05"/>
<circle cx="349.73" cy="241.08" r="2.1" fill="#dcdcdc" stroke="#ee5a5e" stroke-width="1.05"/>
<circle cx="346.26" cy="242.92" r="2.1" fill="#dcdcdc" stroke="#ee5a5e" stroke-width="1.05"/>
<circle cx="355.11" cy="244.75" r="2.1" fill="#dcdcdc" stroke="#ee5a5e" stroke-width="1.05"/>
<circle cx="350.37" cy="245.67" r="2.1" fill="#dcdcdc" stroke="#ee5a5e" stroke-width="1.05"/>
<circle cx="342.58" cy="246.59" r="2.1" fill="#dcdcdc" stroke="#ee5a5e" stroke-width="1.05"/>
<circle cx="346.70" cy="247.50" r="2.1" fill="#dcdcdc" stroke="#ee5a5e" stroke-width="1.05"/>
<circle cx="356.98" cy="248.42" r="2.1" fill="#dcdcdc" stroke="#ee5a5e" stroke-width="1.05"/>
<circle cx="352.65" cy="249.34" r="2.1" fill="#dcdcdc" stroke="#ee5a5e" stroke-width="1.05"/>
<circle cx="341.07" cy="250.26" r="2.1" fill="#dcdcdc" stroke="#ee5a5e" stroke-width="1.05"/>
<circle cx="348.97" cy="251.17" r="2.1" fill="#dcdcdc" stroke="#ee5a5e" stroke-width="1.05"/>
<circle cx="344.99" cy="252.09" r="2.1" fill="#dcdcdc" stroke="#ee5a5e" stroke-width="1.05"/>
<circle cx="355.60" cy="253.01" r="2.1" fill="#dcdcdc" stroke="#ee5a5e" stroke-width="1.05"/>
<circle cx="340.62" cy="253.93" r="2.1" fill="#dcdcdc" stroke="#ee5a5e" stroke-width="1.05"/>
<circle cx="348.40" cy="254.84" r="2.1" fill="#dcdcdc" stroke="#ee5a5e" stroke-width="1.05"/>
<circle cx="343.92" cy="255.76" r="2.1" fill="#dcdcdc" stroke="#ee5a5e" stroke-width="1.05"/>
<circle cx="353.01" cy="256.68" r="2.1" fill="#dcdcdc" stroke="#ee5a5e" stroke-width="1.05"/>
<circle cx="356.49" cy="257.60" r="2.1" fill="#dcdcdc" stroke="#ee5a5e" stroke-width="1.05"/>
<circle cx="341.06" cy="258.51" r="2.1" fill="#dcdcdc" stroke="#ee5a5e" stroke-width="1.05"/>
<circle cx="348.46" cy="259.43" r="2.1" fill="#dcdcdc" stroke="#ee5a5e" stroke-width="1.05"/>
<circle cx="344.75" cy="260.35" r="2.1" fill="#dcdcdc" stroke="#ee5a5e" stroke-width="1.05"/>
<circle cx="353.42" cy="261.27" r="2.1" fill="#dcdcdc" stroke="#ee5a5e" stroke-width="1.05"/>
<circle cx="350.09" cy="262.18" r="2.1" fill="#dcdcdc" stroke="#ee5a5e" stroke-width="1.05"/>
<line x1="348.80" y1="248.79" x2="348.80" y2="237.41" stroke="#ee5a5e" stroke-width="1.3"/>
<line x1="344.30" y1="237.41" x2="353.30" y2="237.41" stroke="#ee5a5e" stroke-width="1.3"/>
<text x="320.60" y="275.30" font-size="10.3" text-anchor="end" font-weight="bold" fill="#111" transform="rotate(-45 320.59999999999997 275.3)">Control</text>
<text x="352.30" y="275.30" font-size="10.3" text-anchor="end" font-weight="bold" fill="#111" transform="rotate(-45 352.3 275.3)">Diabetes</text>
<text x="281.60" y="224.60" font-size="10.4" text-anchor="middle" font-weight="bold" fill="#111" transform="rotate(-90 281.6 224.6)">Lapse rate (%)</text>
<polyline points="317.10,204.60 317.10,181.70 348.80,181.70 348.80,201.40" fill="none" stroke="#111" stroke-width="1.4"/>
<path d="M325.05,171.50L329.65,171.50M326.20,169.51L328.50,173.49M328.50,169.51L326.20,173.49" stroke="#333" stroke-width="1.05" fill="none"/>
<path d="M330.65,171.50L335.25,171.50M331.80,169.51L334.10,173.49M334.10,169.51L331.80,173.49" stroke="#333" stroke-width="1.05" fill="none"/>
<path d="M336.25,171.50L340.85,171.50M337.40,169.51L339.70,173.49M339.70,169.51L337.40,173.49" stroke="#333" stroke-width="1.05" fill="none"/>
<rect x="454.40" y="241.58" width="20.6" height="21.31" fill="#a3a3a6" stroke="#1f69a9" stroke-width="1.3"/>
<rect x="486.70" y="248.20" width="20.6" height="14.70" fill="#a3a3a6" stroke="#ee5a5e" stroke-width="1.3"/>
<line x1="444.10" y1="189.40" x2="444.10" y2="263.60" stroke="#111" stroke-width="1.5"/>
<line x1="444.10" y1="262.90" x2="518.60" y2="262.90" stroke="#111" stroke-width="1.5"/>
<line x1="444.10" y1="262.90" x2="446.50" y2="262.90" stroke="#111" stroke-width="1.3"/>
<text x="441.40" y="266.40" font-size="10" text-anchor="end" font-weight="bold" fill="#111">0.0</text>
<line x1="444.10" y1="248.20" x2="446.50" y2="248.20" stroke="#111" stroke-width="1.3"/>
<text x="441.40" y="251.70" font-size="10" text-anchor="end" font-weight="bold" fill="#111">0.2</text>
<line x1="444.10" y1="233.50" x2="446.50" y2="233.50" stroke="#111" stroke-width="1.3"/>
<text x="441.40" y="237.00" font-size="10" text-anchor="end" font-weight="bold" fill="#111">0.4</text>
<line x1="444.10" y1="218.80" x2="446.50" y2="218.80" stroke="#111" stroke-width="1.3"/>
<text x="441.40" y="222.30" font-size="10" text-anchor="end" font-weight="bold" fill="#111">0.6</text>
<line x1="444.10" y1="204.10" x2="446.50" y2="204.10" stroke="#111" stroke-width="1.3"/>
<text x="441.40" y="207.60" font-size="10" text-anchor="end" font-weight="bold" fill="#111">0.8</text>
<line x1="444.10" y1="189.40" x2="446.50" y2="189.40" stroke="#111" stroke-width="1.3"/>
<text x="441.40" y="192.90" font-size="10" text-anchor="end" font-weight="bold" fill="#111">1.0</text>
<line x1="464.70" y1="262.90" x2="464.70" y2="265.50" stroke="#111" stroke-width="1.3"/>
<line x1="497.00" y1="262.90" x2="497.00" y2="265.50" stroke="#111" stroke-width="1.3"/>
<circle cx="464.12" cy="201.90" r="2.1" fill="#dcdcdc" stroke="#1f69a9" stroke-width="1.05"/>
<circle cx="463.15" cy="217.33" r="2.1" fill="#dcdcdc" stroke="#1f69a9" stroke-width="1.05"/>
<circle cx="467.05" cy="217.33" r="2.1" fill="#dcdcdc" stroke="#1f69a9" stroke-width="1.05"/>
<circle cx="458.59" cy="225.41" r="2.1" fill="#dcdcdc" stroke="#1f69a9" stroke-width="1.05"/>
<circle cx="470.39" cy="225.41" r="2.1" fill="#dcdcdc" stroke="#1f69a9" stroke-width="1.05"/>
<circle cx="464.39" cy="226.15" r="2.1" fill="#dcdcdc" stroke="#1f69a9" stroke-width="1.05"/>
<circle cx="467.01" cy="226.15" r="2.1" fill="#dcdcdc" stroke="#1f69a9" stroke-width="1.05"/>
<circle cx="460.99" cy="226.15" r="2.1" fill="#dcdcdc" stroke="#1f69a9" stroke-width="1.05"/>
<circle cx="472.35" cy="226.88" r="2.1" fill="#dcdcdc" stroke="#1f69a9" stroke-width="1.05"/>
<circle cx="468.93" cy="229.82" r="2.1" fill="#dcdcdc" stroke="#1f69a9" stroke-width="1.05"/>
<circle cx="462.67" cy="230.56" r="2.1" fill="#dcdcdc" stroke="#1f69a9" stroke-width="1.05"/>
<circle cx="458.79" cy="231.29" r="2.1" fill="#dcdcdc" stroke="#1f69a9" stroke-width="1.05"/>
<circle cx="472.47" cy="233.50" r="2.1" fill="#dcdcdc" stroke="#1f69a9" stroke-width="1.05"/>
<circle cx="467.52" cy="234.23" r="2.1" fill="#dcdcdc" stroke="#1f69a9" stroke-width="1.05"/>
<circle cx="461.67" cy="234.97" r="2.1" fill="#dcdcdc" stroke="#1f69a9" stroke-width="1.05"/>
<circle cx="457.74" cy="234.97" r="2.1" fill="#dcdcdc" stroke="#1f69a9" stroke-width="1.05"/>
<circle cx="472.32" cy="235.70" r="2.1" fill="#dcdcdc" stroke="#1f69a9" stroke-width="1.05"/>
<circle cx="465.23" cy="236.44" r="2.1" fill="#dcdcdc" stroke="#1f69a9" stroke-width="1.05"/>
<circle cx="469.35" cy="237.91" r="2.1" fill="#dcdcdc" stroke="#1f69a9" stroke-width="1.05"/>
<circle cx="460.10" cy="238.64" r="2.1" fill="#dcdcdc" stroke="#1f69a9" stroke-width="1.05"/>
<circle cx="464.18" cy="240.85" r="2.1" fill="#dcdcdc" stroke="#1f69a9" stroke-width="1.05"/>
<circle cx="468.81" cy="242.32" r="2.1" fill="#dcdcdc" stroke="#1f69a9" stroke-width="1.05"/>
<circle cx="462.76" cy="244.52" r="2.1" fill="#dcdcdc" stroke="#1f69a9" stroke-width="1.05"/>
<circle cx="467.97" cy="248.20" r="2.1" fill="#dcdcdc" stroke="#1f69a9" stroke-width="1.05"/>
<circle cx="458.23" cy="250.40" r="2.1" fill="#dcdcdc" stroke="#1f69a9" stroke-width="1.05"/>
<circle cx="464.62" cy="251.14" r="2.1" fill="#dcdcdc" stroke="#1f69a9" stroke-width="1.05"/>
<circle cx="468.69" cy="251.87" r="2.1" fill="#dcdcdc" stroke="#1f69a9" stroke-width="1.05"/>
<circle cx="460.67" cy="253.34" r="2.1" fill="#dcdcdc" stroke="#1f69a9" stroke-width="1.05"/>
<circle cx="465.97" cy="255.55" r="2.1" fill="#dcdcdc" stroke="#1f69a9" stroke-width="1.05"/>
<circle cx="462.11" cy="257.02" r="2.1" fill="#dcdcdc" stroke="#1f69a9" stroke-width="1.05"/>
<circle cx="469.13" cy="258.49" r="2.1" fill="#dcdcdc" stroke="#1f69a9" stroke-width="1.05"/>
<line x1="464.70" y1="241.58" x2="464.70" y2="223.94" stroke="#1f69a9" stroke-width="1.3"/>
<line x1="460.20" y1="223.94" x2="469.20" y2="223.94" stroke="#1f69a9" stroke-width="1.3"/>
<circle cx="497.88" cy="232.76" r="2.1" fill="#dcdcdc" stroke="#ee5a5e" stroke-width="1.05"/>
<circle cx="494.77" cy="236.44" r="2.1" fill="#dcdcdc" stroke="#ee5a5e" stroke-width="1.05"/>
<circle cx="501.24" cy="238.64" r="2.1" fill="#dcdcdc" stroke="#ee5a5e" stroke-width="1.05"/>
<circle cx="490.89" cy="240.11" r="2.1" fill="#dcdcdc" stroke="#ee5a5e" stroke-width="1.05"/>
<circle cx="495.26" cy="240.85" r="2.1" fill="#dcdcdc" stroke="#ee5a5e" stroke-width="1.05"/>
<circle cx="499.77" cy="242.32" r="2.1" fill="#dcdcdc" stroke="#ee5a5e" stroke-width="1.05"/>
<circle cx="503.10" cy="243.05" r="2.1" fill="#dcdcdc" stroke="#ee5a5e" stroke-width="1.05"/>
<circle cx="491.81" cy="244.52" r="2.1" fill="#dcdcdc" stroke="#ee5a5e" stroke-width="1.05"/>
<circle cx="496.50" cy="245.26" r="2.1" fill="#dcdcdc" stroke="#ee5a5e" stroke-width="1.05"/>
<circle cx="500.69" cy="246.73" r="2.1" fill="#dcdcdc" stroke="#ee5a5e" stroke-width="1.05"/>
<circle cx="505.12" cy="247.46" r="2.1" fill="#dcdcdc" stroke="#ee5a5e" stroke-width="1.05"/>
<circle cx="489.01" cy="248.20" r="2.1" fill="#dcdcdc" stroke="#ee5a5e" stroke-width="1.05"/>
<circle cx="494.54" cy="248.93" r="2.1" fill="#dcdcdc" stroke="#ee5a5e" stroke-width="1.05"/>
<circle cx="498.48" cy="249.67" r="2.1" fill="#dcdcdc" stroke="#ee5a5e" stroke-width="1.05"/>
<circle cx="502.57" cy="250.40" r="2.1" fill="#dcdcdc" stroke="#ee5a5e" stroke-width="1.05"/>
<circle cx="491.46" cy="251.14" r="2.1" fill="#dcdcdc" stroke="#ee5a5e" stroke-width="1.05"/>
<circle cx="496.52" cy="251.87" r="2.1" fill="#dcdcdc" stroke="#ee5a5e" stroke-width="1.05"/>
<circle cx="499.86" cy="252.61" r="2.1" fill="#dcdcdc" stroke="#ee5a5e" stroke-width="1.05"/>
<circle cx="504.61" cy="254.08" r="2.1" fill="#dcdcdc" stroke="#ee5a5e" stroke-width="1.05"/>
<circle cx="489.63" cy="254.81" r="2.1" fill="#dcdcdc" stroke="#ee5a5e" stroke-width="1.05"/>
<circle cx="497.85" cy="255.55" r="2.1" fill="#dcdcdc" stroke="#ee5a5e" stroke-width="1.05"/>
<circle cx="494.68" cy="256.28" r="2.1" fill="#dcdcdc" stroke="#ee5a5e" stroke-width="1.05"/>
<circle cx="502.57" cy="257.02" r="2.1" fill="#dcdcdc" stroke="#ee5a5e" stroke-width="1.05"/>
<circle cx="490.27" cy="257.75" r="2.1" fill="#dcdcdc" stroke="#ee5a5e" stroke-width="1.05"/>
<circle cx="499.70" cy="258.49" r="2.1" fill="#dcdcdc" stroke="#ee5a5e" stroke-width="1.05"/>
<circle cx="496.19" cy="259.22" r="2.1" fill="#dcdcdc" stroke="#ee5a5e" stroke-width="1.05"/>
<line x1="497.00" y1="248.20" x2="497.00" y2="240.85" stroke="#ee5a5e" stroke-width="1.3"/>
<line x1="492.50" y1="240.85" x2="501.50" y2="240.85" stroke="#ee5a5e" stroke-width="1.3"/>
<text x="468.20" y="275.10" font-size="10.3" text-anchor="end" font-weight="bold" fill="#111" transform="rotate(-45 468.20000000000005 275.09999999999997)">Control</text>
<text x="500.50" y="275.10" font-size="10.3" text-anchor="end" font-weight="bold" fill="#111" transform="rotate(-45 500.5 275.09999999999997)">Diabetes</text>
<text x="421.30" y="226.30" font-size="10.75" text-anchor="middle" font-weight="bold" fill="#111" transform="rotate(-90 421.3 226.3)">Sensitivity Index</text>
<polyline points="464.70,195.30 464.70,181.70 497.00,181.70 497.00,226.40" fill="none" stroke="#111" stroke-width="1.4"/>
<path d="M470.15,171.50L474.75,171.50M471.30,169.51L473.60,173.49M473.60,169.51L471.30,173.49" stroke="#333" stroke-width="1.05" fill="none"/>
<path d="M475.75,171.50L480.35,171.50M476.90,169.51L479.20,173.49M479.20,169.51L476.90,173.49" stroke="#333" stroke-width="1.05" fill="none"/>
<path d="M481.35,171.50L485.95,171.50M482.50,169.51L484.80,173.49M484.80,169.51L482.50,173.49" stroke="#333" stroke-width="1.05" fill="none"/>
<path d="M486.95,171.50L491.55,171.50M488.10,169.51L490.40,173.49M490.40,169.51L488.10,173.49" stroke="#333" stroke-width="1.05" fill="none"/>
<line x1="65.80" y1="353.80" x2="65.80" y2="407.90" stroke="#111" stroke-width="1.5"/>
<line x1="65.10" y1="407.20" x2="207.20" y2="407.20" stroke="#111" stroke-width="1.5"/>
<line x1="65.80" y1="354.20" x2="68.50" y2="354.20" stroke="#111" stroke-width="1.3"/>
<text x="62.40" y="357.70" font-size="10" text-anchor="end" font-weight="bold" fill="#111">-2</text>
<line x1="65.80" y1="380.70" x2="68.50" y2="380.70" stroke="#111" stroke-width="1.3"/>
<text x="62.40" y="384.20" font-size="10" text-anchor="end" font-weight="bold" fill="#111">-4</text>
<line x1="65.80" y1="407.20" x2="68.50" y2="407.20" stroke="#111" stroke-width="1.3"/>
<text x="62.40" y="410.70" font-size="10" text-anchor="end" font-weight="bold" fill="#111">-6</text>
<line x1="64.60" y1="407.20" x2="64.60" y2="404.50" stroke="#111" stroke-width="1.3"/>
<text x="64.60" y="422.30" font-size="10" text-anchor="middle" font-weight="bold" fill="#111">5</text>
<line x1="126.10" y1="407.20" x2="126.10" y2="404.50" stroke="#111" stroke-width="1.3"/>
<text x="126.10" y="422.30" font-size="10" text-anchor="middle" font-weight="bold" fill="#111">10</text>
<line x1="187.60" y1="407.20" x2="187.60" y2="404.50" stroke="#111" stroke-width="1.3"/>
<text x="187.60" y="422.30" font-size="10" text-anchor="middle" font-weight="bold" fill="#111">15</text>
<text x="135.40" y="435.90" font-size="10.5" text-anchor="middle" font-weight="bold" fill="#111">HbA1c %</text>
<text x="47.00" y="380.40" font-size="10.2" text-anchor="middle" font-weight="bold" fill="#111" transform="rotate(-90 47.0 380.4)">Log lapse rate</text>
<text x="135.40" y="350.70" font-size="10.45" text-anchor="middle" font-weight="bold" fill="#e60000">r = 0.3669 P = 0.0328</text>
<line x1="70.80" y1="400.20" x2="205.60" y2="378.40" stroke="#111" stroke-width="1.5"/>
<circle cx="70.00" cy="406.20" r="2.8" fill="#f6e21c"/>
<circle cx="73.80" cy="398.00" r="2.8" fill="#4747a9"/>
<circle cx="86.20" cy="387.20" r="2.8" fill="#4063c3"/>
<circle cx="84.60" cy="389.20" r="2.8" fill="#1cb5cf"/>
<circle cx="85.40" cy="391.20" r="2.8" fill="#1cb5cf"/>
<circle cx="84.60" cy="398.00" r="2.8" fill="#1cb5cf"/>
<circle cx="90.00" cy="391.20" r="2.8" fill="#4747a9"/>
<circle cx="89.50" cy="402.60" r="2.8" fill="#f1b62f"/>
<circle cx="99.20" cy="383.80" r="2.8" fill="#c8bf33"/>
<circle cx="100.80" cy="393.80" r="2.8" fill="#f1b62f"/>
<circle cx="96.90" cy="391.50" r="2.8" fill="#3dbf9e"/>
<circle cx="103.10" cy="389.70" r="2.8" fill="#4063c3"/>
<circle cx="101.00" cy="399.50" r="2.8" fill="#4063c3"/>
<circle cx="103.80" cy="396.90" r="2.8" fill="#5cc08a"/>
<circle cx="98.50" cy="399.20" r="2.8" fill="#c8bf33"/>
<circle cx="96.90" cy="402.00" r="2.8" fill="#3dbf9e"/>
<circle cx="99.20" cy="404.00" r="2.8" fill="#1cb5cf"/>
<circle cx="114.20" cy="396.20" r="2.8" fill="#4063c3"/>
<circle cx="115.40" cy="396.90" r="2.8" fill="#5cc08a"/>
<circle cx="120.30" cy="393.80" r="2.8" fill="#2f8fd0"/>
<circle cx="121.50" cy="386.60" r="2.8" fill="#4063c3"/>
<circle cx="124.90" cy="379.20" r="2.8" fill="#1cb5cf"/>
<circle cx="130.20" cy="386.70" r="2.8" fill="#4063c3"/>
<circle cx="120.30" cy="403.50" r="2.8" fill="#4747a9"/>
<circle cx="142.30" cy="373.90" r="2.8" fill="#1cb5cf"/>
<circle cx="163.10" cy="363.80" r="2.8" fill="#f1b62f"/>
<circle cx="151.00" cy="380.60" r="2.8" fill="#e9b52c"/>
<circle cx="140.90" cy="396.40" r="2.8" fill="#4063c3"/>
<circle cx="140.90" cy="400.20" r="2.8" fill="#4747a9"/>
<circle cx="153.20" cy="401.20" r="2.8" fill="#4747a9"/>
<circle cx="160.80" cy="395.00" r="2.8" fill="#4747a9"/>
<circle cx="206.00" cy="381.70" r="2.8" fill="#4063c3"/>
<defs><linearGradient id="parg" x1="0" y1="1" x2="0" y2="0"><stop offset="0.0" stop-color="#3d3a8e"/><stop offset="0.15" stop-color="#4452b4"/><stop offset="0.3" stop-color="#3b7fcf"/><stop offset="0.42" stop-color="#1eaad6"/><stop offset="0.52" stop-color="#1fb8bd"/><stop offset="0.62" stop-color="#4fbf95"/><stop offset="0.7" stop-color="#9bc35a"/><stop offset="0.8" stop-color="#efb43c"/><stop offset="0.9" stop-color="#f6c633"/><stop offset="1.0" stop-color="#f7e81f"/></linearGradient></defs>
<rect x="215.2" y="362.6" width="13" height="54" fill="url(#parg)" stroke="#333" stroke-width="0.9"/>
<line x1="228.20" y1="366.70" x2="225.80" y2="366.70" stroke="#333" stroke-width="0.9"/>
<line x1="228.20" y1="393.30" x2="225.80" y2="393.30" stroke="#333" stroke-width="0.9"/>
<text x="232.40" y="370.00" font-size="10.5" text-anchor="start" font-weight="normal" fill="#000">20</text>
<text x="232.40" y="396.60" font-size="10.5" text-anchor="start" font-weight="normal" fill="#000">10</text>
<text x="251.60" y="388.70" font-size="11" text-anchor="middle" font-weight="normal" fill="#000" transform="rotate(90 251.6 388.7)">Duration (Years)</text>
<line x1="336.90" y1="355.00" x2="336.90" y2="407.30" stroke="#111" stroke-width="1.5"/>
<line x1="336.20" y1="406.60" x2="478.20" y2="406.60" stroke="#111" stroke-width="1.5"/>
<line x1="336.90" y1="354.80" x2="339.60" y2="354.80" stroke="#111" stroke-width="1.3"/>
<text x="332.70" y="358.30" font-size="10" text-anchor="end" font-weight="bold" fill="#111">-2</text>
<line x1="336.90" y1="380.70" x2="339.60" y2="380.70" stroke="#111" stroke-width="1.3"/>
<text x="332.70" y="384.20" font-size="10" text-anchor="end" font-weight="bold" fill="#111">-4</text>
<line x1="336.90" y1="406.60" x2="339.60" y2="406.60" stroke="#111" stroke-width="1.3"/>
<text x="332.70" y="410.10" font-size="10" text-anchor="end" font-weight="bold" fill="#111">-6</text>
<line x1="336.90" y1="406.60" x2="336.90" y2="403.90" stroke="#111" stroke-width="1.3"/>
<text x="336.90" y="422.30" font-size="10" text-anchor="middle" font-weight="bold" fill="#111">0</text>
<line x1="371.75" y1="406.60" x2="371.75" y2="403.90" stroke="#111" stroke-width="1.3"/>
<text x="371.75" y="422.30" font-size="10" text-anchor="middle" font-weight="bold" fill="#111">5</text>
<line x1="406.60" y1="406.60" x2="406.60" y2="403.90" stroke="#111" stroke-width="1.3"/>
<text x="406.60" y="422.30" font-size="10" text-anchor="middle" font-weight="bold" fill="#111">10</text>
<line x1="441.45" y1="406.60" x2="441.45" y2="403.90" stroke="#111" stroke-width="1.3"/>
<text x="441.45" y="422.30" font-size="10" text-anchor="middle" font-weight="bold" fill="#111">15</text>
<line x1="476.30" y1="406.60" x2="476.30" y2="403.90" stroke="#111" stroke-width="1.3"/>
<text x="476.30" y="422.30" font-size="10" text-anchor="middle" font-weight="bold" fill="#111">20</text>
<text x="406.20" y="435.00" font-size="10.5" text-anchor="middle" font-weight="bold" fill="#111">Duration (Years)</text>
<text x="318.60" y="380.20" font-size="10.2" text-anchor="middle" font-weight="bold" fill="#111" transform="rotate(-90 318.6 380.2)">Log lapse rate</text>
<text x="406.40" y="350.90" font-size="10.45" text-anchor="middle" font-weight="bold" fill="#e60000">r = 0.5930 P = 0.0121</text>
<text x="355.80" y="363.60" font-size="10.5" text-anchor="start" font-weight="bold" fill="#111">HbA1c ≥ 8%</text>
<line x1="347.30" y1="398.20" x2="463.30" y2="375.40" stroke="#111" stroke-width="1.5"/>
<circle cx="347.30" cy="403.10" r="2.8" fill="#f4b23a"/>
<circle cx="354.50" cy="401.10" r="2.8" fill="#f4b23a"/>
<circle cx="358.00" cy="399.60" r="2.8" fill="#f4b23a"/>
<circle cx="358.00" cy="394.70" r="2.8" fill="#f4b23a"/>
<circle cx="371.80" cy="388.90" r="2.8" fill="#f4b23a"/>
<circle cx="379.00" cy="381.20" r="2.8" fill="#f4b23a"/>
<circle cx="379.00" cy="386.90" r="2.8" fill="#f4b23a"/>
<circle cx="379.00" cy="396.10" r="2.8" fill="#f4b23a"/>
<circle cx="392.60" cy="393.30" r="2.8" fill="#f4b23a"/>
<circle cx="406.40" cy="373.90" r="2.8" fill="#f4b23a"/>
<circle cx="406.40" cy="379.40" r="2.8" fill="#f4b23a"/>
<circle cx="427.50" cy="396.70" r="2.8" fill="#f4b23a"/>
<circle cx="455.50" cy="380.30" r="2.8" fill="#f4b23a"/>
<circle cx="462.70" cy="363.80" r="2.8" fill="#f4b23a"/>
</svg>
</body></html>
